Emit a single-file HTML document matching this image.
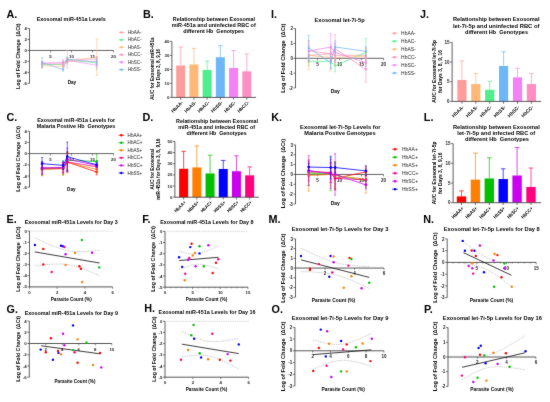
<!DOCTYPE html>
<html><head><meta charset="utf-8"><style>
html,body{margin:0;padding:0;background:#fff;width:550px;height:402px;overflow:hidden}
svg{display:block}
text{font-family:"Liberation Sans",sans-serif;white-space:pre}
text[font-weight=bold]{stroke:#1e1e1e;stroke-width:0}
text.t{fill:#222}
</style></head><body>
<svg xmlns="http://www.w3.org/2000/svg" width="550" height="402" viewBox="0 0 550 402" font-family="Liberation Sans, sans-serif">
<defs><filter id="bl" x="0" y="0" width="550" height="402" filterUnits="userSpaceOnUse"><feConvolveMatrix order="3" kernelMatrix="0.0221 0.0441 0.0221 0.0441 0.7353 0.0441 0.0221 0.0441 0.0221" preserveAlpha="false" edgeMode="duplicate"/></filter></defs>
<rect width="550" height="402" fill="#fff"/>
<g filter="url(#bl)">
<text x="6.40" y="17.50" font-size="10.8" font-weight="bold">A.</text>
<text x="71.25" y="21.20" font-size="5.8" font-weight="bold" text-anchor="middle" textLength="69.1" lengthAdjust="spacingAndGlyphs">Exosomal miR-451a Levels</text>
<line x1="29.50" y1="28.49" x2="29.50" y2="83.39" stroke="#3a3a3a" stroke-width="0.8"/>
<line x1="27.50" y1="83.39" x2="29.50" y2="83.39" stroke="#3a3a3a" stroke-width="0.7"/>
<text x="26.90" y="84.94" font-size="4.3" font-weight="700" class="t" text-anchor="end">-6</text>
<line x1="27.50" y1="72.41" x2="29.50" y2="72.41" stroke="#3a3a3a" stroke-width="0.7"/>
<text x="26.90" y="73.96" font-size="4.3" font-weight="700" class="t" text-anchor="end">-4</text>
<line x1="27.50" y1="61.43" x2="29.50" y2="61.43" stroke="#3a3a3a" stroke-width="0.7"/>
<text x="26.90" y="62.98" font-size="4.3" font-weight="700" class="t" text-anchor="end">-2</text>
<line x1="27.50" y1="50.45" x2="29.50" y2="50.45" stroke="#3a3a3a" stroke-width="0.7"/>
<text x="26.90" y="52.00" font-size="4.3" font-weight="700" class="t" text-anchor="end">0</text>
<line x1="27.50" y1="39.47" x2="29.50" y2="39.47" stroke="#3a3a3a" stroke-width="0.7"/>
<text x="26.90" y="41.02" font-size="4.3" font-weight="700" class="t" text-anchor="end">2</text>
<line x1="27.50" y1="28.49" x2="29.50" y2="28.49" stroke="#3a3a3a" stroke-width="0.7"/>
<text x="26.90" y="30.04" font-size="4.3" font-weight="700" class="t" text-anchor="end">4</text>
<line x1="29.50" y1="50.45" x2="113.50" y2="50.45" stroke="#3a3a3a" stroke-width="0.8"/>
<line x1="50.50" y1="50.45" x2="50.50" y2="52.35" stroke="#3a3a3a" stroke-width="0.6"/>
<text x="50.50" y="57.85" font-size="4.3" font-weight="700" class="t" text-anchor="middle">5</text>
<line x1="71.50" y1="50.45" x2="71.50" y2="52.35" stroke="#3a3a3a" stroke-width="0.6"/>
<text x="71.50" y="57.85" font-size="4.3" font-weight="700" class="t" text-anchor="middle">10</text>
<line x1="92.50" y1="50.45" x2="92.50" y2="52.35" stroke="#3a3a3a" stroke-width="0.6"/>
<text x="92.50" y="57.85" font-size="4.3" font-weight="700" class="t" text-anchor="middle">15</text>
<line x1="113.50" y1="50.45" x2="113.50" y2="52.35" stroke="#3a3a3a" stroke-width="0.6"/>
<text x="113.50" y="57.85" font-size="4.3" font-weight="700" class="t" text-anchor="middle">20</text>
<text x="71.90" y="84.30" font-size="4.6" font-weight="bold" text-anchor="middle">Day</text>
<text x="20.13" y="56.20" font-size="6.2" font-weight="bold" text-anchor="middle" transform="rotate(-90 20.13 56.20)" textLength="65.4" lengthAdjust="spacingAndGlyphs">Log of Fold Change  (ΔCt)</text>
<line x1="42.10" y1="61.43" x2="42.10" y2="66.92" stroke="#FF9C9C" stroke-width="0.5"/>
<line x1="41.00" y1="61.43" x2="43.20" y2="61.43" stroke="#FF9C9C" stroke-width="0.5"/>
<line x1="41.00" y1="66.92" x2="43.20" y2="66.92" stroke="#FF9C9C" stroke-width="0.5"/>
<line x1="63.10" y1="62.53" x2="63.10" y2="66.92" stroke="#FF9C9C" stroke-width="0.5"/>
<line x1="62.00" y1="62.53" x2="64.20" y2="62.53" stroke="#FF9C9C" stroke-width="0.5"/>
<line x1="62.00" y1="66.92" x2="64.20" y2="66.92" stroke="#FF9C9C" stroke-width="0.5"/>
<line x1="67.30" y1="59.23" x2="67.30" y2="62.53" stroke="#FF9C9C" stroke-width="0.5"/>
<line x1="66.20" y1="59.23" x2="68.40" y2="59.23" stroke="#FF9C9C" stroke-width="0.5"/>
<line x1="66.20" y1="62.53" x2="68.40" y2="62.53" stroke="#FF9C9C" stroke-width="0.5"/>
<line x1="96.70" y1="58.69" x2="96.70" y2="64.18" stroke="#FF9C9C" stroke-width="0.5"/>
<line x1="95.60" y1="58.69" x2="97.80" y2="58.69" stroke="#FF9C9C" stroke-width="0.5"/>
<line x1="95.60" y1="64.18" x2="97.80" y2="64.18" stroke="#FF9C9C" stroke-width="0.5"/>
<polyline points="42.10,64.18 63.10,64.72 67.30,60.88 96.70,61.43" fill="none" stroke="#FF9C9C" stroke-width="0.6"/>
<circle cx="42.10" cy="64.18" r="0.75" fill="#FF9C9C"/>
<circle cx="63.10" cy="64.72" r="0.75" fill="#FF9C9C"/>
<circle cx="67.30" cy="60.88" r="0.75" fill="#FF9C9C"/>
<circle cx="96.70" cy="61.43" r="0.75" fill="#FF9C9C"/>
<line x1="42.10" y1="62.53" x2="42.10" y2="66.92" stroke="#50EE8C" stroke-width="0.5"/>
<line x1="41.00" y1="62.53" x2="43.20" y2="62.53" stroke="#50EE8C" stroke-width="0.5"/>
<line x1="41.00" y1="66.92" x2="43.20" y2="66.92" stroke="#50EE8C" stroke-width="0.5"/>
<line x1="63.10" y1="61.43" x2="63.10" y2="66.92" stroke="#50EE8C" stroke-width="0.5"/>
<line x1="62.00" y1="61.43" x2="64.20" y2="61.43" stroke="#50EE8C" stroke-width="0.5"/>
<line x1="62.00" y1="66.92" x2="64.20" y2="66.92" stroke="#50EE8C" stroke-width="0.5"/>
<line x1="67.30" y1="57.04" x2="67.30" y2="62.53" stroke="#50EE8C" stroke-width="0.5"/>
<line x1="66.20" y1="57.04" x2="68.40" y2="57.04" stroke="#50EE8C" stroke-width="0.5"/>
<line x1="66.20" y1="62.53" x2="68.40" y2="62.53" stroke="#50EE8C" stroke-width="0.5"/>
<line x1="96.70" y1="56.49" x2="96.70" y2="69.67" stroke="#50EE8C" stroke-width="0.5"/>
<line x1="95.60" y1="56.49" x2="97.80" y2="56.49" stroke="#50EE8C" stroke-width="0.5"/>
<line x1="95.60" y1="69.67" x2="97.80" y2="69.67" stroke="#50EE8C" stroke-width="0.5"/>
<polyline points="42.10,64.72 63.10,64.18 67.30,59.78 96.70,63.08" fill="none" stroke="#50EE8C" stroke-width="0.6"/>
<circle cx="42.10" cy="64.72" r="0.75" fill="#50EE8C"/>
<circle cx="63.10" cy="64.18" r="0.75" fill="#50EE8C"/>
<circle cx="67.30" cy="59.78" r="0.75" fill="#50EE8C"/>
<circle cx="96.70" cy="63.08" r="0.75" fill="#50EE8C"/>
<line x1="42.10" y1="63.08" x2="42.10" y2="68.57" stroke="#FFB878" stroke-width="0.5"/>
<line x1="41.00" y1="63.08" x2="43.20" y2="63.08" stroke="#FFB878" stroke-width="0.5"/>
<line x1="41.00" y1="68.57" x2="43.20" y2="68.57" stroke="#FFB878" stroke-width="0.5"/>
<line x1="63.10" y1="64.18" x2="63.10" y2="68.57" stroke="#FFB878" stroke-width="0.5"/>
<line x1="62.00" y1="64.18" x2="64.20" y2="64.18" stroke="#FFB878" stroke-width="0.5"/>
<line x1="62.00" y1="68.57" x2="64.20" y2="68.57" stroke="#FFB878" stroke-width="0.5"/>
<line x1="67.30" y1="59.23" x2="67.30" y2="63.63" stroke="#FFB878" stroke-width="0.5"/>
<line x1="66.20" y1="59.23" x2="68.40" y2="59.23" stroke="#FFB878" stroke-width="0.5"/>
<line x1="66.20" y1="63.63" x2="68.40" y2="63.63" stroke="#FFB878" stroke-width="0.5"/>
<line x1="96.70" y1="39.20" x2="96.70" y2="75.43" stroke="#FFB878" stroke-width="0.5"/>
<line x1="95.60" y1="39.20" x2="97.80" y2="39.20" stroke="#FFB878" stroke-width="0.5"/>
<line x1="95.60" y1="75.43" x2="97.80" y2="75.43" stroke="#FFB878" stroke-width="0.5"/>
<polyline points="42.10,65.82 63.10,66.37 67.30,61.43 96.70,57.31" fill="none" stroke="#FFB878" stroke-width="0.6"/>
<circle cx="42.10" cy="65.82" r="0.75" fill="#FFB878"/>
<circle cx="63.10" cy="66.37" r="0.75" fill="#FFB878"/>
<circle cx="67.30" cy="61.43" r="0.75" fill="#FFB878"/>
<circle cx="96.70" cy="57.31" r="0.75" fill="#FFB878"/>
<line x1="42.10" y1="61.43" x2="42.10" y2="64.72" stroke="#FF8EC2" stroke-width="0.5"/>
<line x1="41.00" y1="61.43" x2="43.20" y2="61.43" stroke="#FF8EC2" stroke-width="0.5"/>
<line x1="41.00" y1="64.72" x2="43.20" y2="64.72" stroke="#FF8EC2" stroke-width="0.5"/>
<line x1="63.10" y1="60.88" x2="63.10" y2="65.27" stroke="#FF8EC2" stroke-width="0.5"/>
<line x1="62.00" y1="60.88" x2="64.20" y2="60.88" stroke="#FF8EC2" stroke-width="0.5"/>
<line x1="62.00" y1="65.27" x2="64.20" y2="65.27" stroke="#FF8EC2" stroke-width="0.5"/>
<line x1="67.30" y1="50.45" x2="67.30" y2="68.02" stroke="#FF8EC2" stroke-width="0.5"/>
<line x1="66.20" y1="50.45" x2="68.40" y2="50.45" stroke="#FF8EC2" stroke-width="0.5"/>
<line x1="66.20" y1="68.02" x2="68.40" y2="68.02" stroke="#FF8EC2" stroke-width="0.5"/>
<line x1="96.70" y1="57.04" x2="96.70" y2="61.43" stroke="#FF8EC2" stroke-width="0.5"/>
<line x1="95.60" y1="57.04" x2="97.80" y2="57.04" stroke="#FF8EC2" stroke-width="0.5"/>
<line x1="95.60" y1="61.43" x2="97.80" y2="61.43" stroke="#FF8EC2" stroke-width="0.5"/>
<polyline points="42.10,63.08 63.10,63.08 67.30,59.23 96.70,59.23" fill="none" stroke="#FF8EC2" stroke-width="0.6"/>
<circle cx="42.10" cy="63.08" r="0.75" fill="#FF8EC2"/>
<circle cx="63.10" cy="63.08" r="0.75" fill="#FF8EC2"/>
<circle cx="67.30" cy="59.23" r="0.75" fill="#FF8EC2"/>
<circle cx="96.70" cy="59.23" r="0.75" fill="#FF8EC2"/>
<line x1="42.10" y1="61.70" x2="42.10" y2="65.00" stroke="#F282F6" stroke-width="0.5"/>
<line x1="41.00" y1="61.70" x2="43.20" y2="61.70" stroke="#F282F6" stroke-width="0.5"/>
<line x1="41.00" y1="65.00" x2="43.20" y2="65.00" stroke="#F282F6" stroke-width="0.5"/>
<line x1="63.10" y1="59.78" x2="63.10" y2="65.27" stroke="#F282F6" stroke-width="0.5"/>
<line x1="62.00" y1="59.78" x2="64.20" y2="59.78" stroke="#F282F6" stroke-width="0.5"/>
<line x1="62.00" y1="65.27" x2="64.20" y2="65.27" stroke="#F282F6" stroke-width="0.5"/>
<line x1="67.30" y1="58.14" x2="67.30" y2="62.53" stroke="#F282F6" stroke-width="0.5"/>
<line x1="66.20" y1="58.14" x2="68.40" y2="58.14" stroke="#F282F6" stroke-width="0.5"/>
<line x1="66.20" y1="62.53" x2="68.40" y2="62.53" stroke="#F282F6" stroke-width="0.5"/>
<line x1="96.70" y1="63.08" x2="96.70" y2="67.47" stroke="#F282F6" stroke-width="0.5"/>
<line x1="95.60" y1="63.08" x2="97.80" y2="63.08" stroke="#F282F6" stroke-width="0.5"/>
<line x1="95.60" y1="67.47" x2="97.80" y2="67.47" stroke="#F282F6" stroke-width="0.5"/>
<polyline points="42.10,63.35 63.10,62.53 67.30,60.33 96.70,65.27" fill="none" stroke="#F282F6" stroke-width="0.6"/>
<circle cx="42.10" cy="63.35" r="0.75" fill="#F282F6"/>
<circle cx="63.10" cy="62.53" r="0.75" fill="#F282F6"/>
<circle cx="67.30" cy="60.33" r="0.75" fill="#F282F6"/>
<circle cx="96.70" cy="65.27" r="0.75" fill="#F282F6"/>
<line x1="42.10" y1="57.59" x2="42.10" y2="67.47" stroke="#6DB7F7" stroke-width="0.5"/>
<line x1="41.00" y1="57.59" x2="43.20" y2="57.59" stroke="#6DB7F7" stroke-width="0.5"/>
<line x1="41.00" y1="67.47" x2="43.20" y2="67.47" stroke="#6DB7F7" stroke-width="0.5"/>
<line x1="63.10" y1="68.02" x2="63.10" y2="71.31" stroke="#6DB7F7" stroke-width="0.5"/>
<line x1="62.00" y1="68.02" x2="64.20" y2="68.02" stroke="#6DB7F7" stroke-width="0.5"/>
<line x1="62.00" y1="71.31" x2="64.20" y2="71.31" stroke="#6DB7F7" stroke-width="0.5"/>
<line x1="67.30" y1="57.59" x2="67.30" y2="60.88" stroke="#6DB7F7" stroke-width="0.5"/>
<line x1="66.20" y1="57.59" x2="68.40" y2="57.59" stroke="#6DB7F7" stroke-width="0.5"/>
<line x1="66.20" y1="60.88" x2="68.40" y2="60.88" stroke="#6DB7F7" stroke-width="0.5"/>
<line x1="96.70" y1="59.23" x2="96.70" y2="64.72" stroke="#6DB7F7" stroke-width="0.5"/>
<line x1="95.60" y1="59.23" x2="97.80" y2="59.23" stroke="#6DB7F7" stroke-width="0.5"/>
<line x1="95.60" y1="64.72" x2="97.80" y2="64.72" stroke="#6DB7F7" stroke-width="0.5"/>
<polyline points="42.10,62.53 63.10,69.67 67.30,59.23 96.70,61.98" fill="none" stroke="#6DB7F7" stroke-width="0.6"/>
<circle cx="42.10" cy="62.53" r="0.75" fill="#6DB7F7"/>
<circle cx="63.10" cy="69.67" r="0.75" fill="#6DB7F7"/>
<circle cx="67.30" cy="59.23" r="0.75" fill="#6DB7F7"/>
<circle cx="96.70" cy="61.98" r="0.75" fill="#6DB7F7"/>
<line x1="118.70" y1="32.40" x2="124.30" y2="32.40" stroke="#FF9C9C" stroke-width="0.8"/>
<circle cx="121.50" cy="32.40" r="1.2" fill="#FF9C9C"/>
<text x="128.00" y="34.04" font-size="4.55" fill="#222">HbAA-</text>
<line x1="118.70" y1="39.85" x2="124.30" y2="39.85" stroke="#50EE8C" stroke-width="0.8"/>
<circle cx="121.50" cy="39.85" r="1.2" fill="#50EE8C"/>
<text x="128.00" y="41.49" font-size="4.55" fill="#222">HbAC-</text>
<line x1="118.70" y1="47.30" x2="124.30" y2="47.30" stroke="#FFB878" stroke-width="0.8"/>
<circle cx="121.50" cy="47.30" r="1.2" fill="#FFB878"/>
<text x="128.00" y="48.94" font-size="4.55" fill="#222">HbAS-</text>
<line x1="118.70" y1="54.75" x2="124.30" y2="54.75" stroke="#FF8EC2" stroke-width="0.8"/>
<circle cx="121.50" cy="54.75" r="1.2" fill="#FF8EC2"/>
<text x="128.00" y="56.39" font-size="4.55" fill="#222">HbCC-</text>
<line x1="118.70" y1="62.20" x2="124.30" y2="62.20" stroke="#F282F6" stroke-width="0.8"/>
<circle cx="121.50" cy="62.20" r="1.2" fill="#F282F6"/>
<text x="128.00" y="63.84" font-size="4.55" fill="#222">HbSC-</text>
<line x1="118.70" y1="69.65" x2="124.30" y2="69.65" stroke="#6DB7F7" stroke-width="0.8"/>
<circle cx="121.50" cy="69.65" r="1.2" fill="#6DB7F7"/>
<text x="128.00" y="71.29" font-size="4.55" fill="#222">HbSS-</text>
<text x="6.40" y="120.50" font-size="10.8" font-weight="bold">C.</text>
<text x="76.10" y="122.00" font-size="5.8" font-weight="bold" text-anchor="middle" textLength="77.9" lengthAdjust="spacingAndGlyphs">Exosomal miR-451a Levels for</text>
<text x="76.10" y="128.20" font-size="5.8" font-weight="bold" text-anchor="middle" textLength="78.5" lengthAdjust="spacingAndGlyphs">Malaria Postive Hb  Genotypes</text>
<line x1="29.50" y1="131.20" x2="29.50" y2="187.20" stroke="#3a3a3a" stroke-width="0.8"/>
<line x1="27.50" y1="187.20" x2="29.50" y2="187.20" stroke="#3a3a3a" stroke-width="0.7"/>
<text x="26.90" y="188.75" font-size="4.3" font-weight="700" class="t" text-anchor="end">-6</text>
<line x1="27.50" y1="176.00" x2="29.50" y2="176.00" stroke="#3a3a3a" stroke-width="0.7"/>
<text x="26.90" y="177.55" font-size="4.3" font-weight="700" class="t" text-anchor="end">-4</text>
<line x1="27.50" y1="164.80" x2="29.50" y2="164.80" stroke="#3a3a3a" stroke-width="0.7"/>
<text x="26.90" y="166.35" font-size="4.3" font-weight="700" class="t" text-anchor="end">-2</text>
<line x1="27.50" y1="153.60" x2="29.50" y2="153.60" stroke="#3a3a3a" stroke-width="0.7"/>
<text x="26.90" y="155.15" font-size="4.3" font-weight="700" class="t" text-anchor="end">0</text>
<line x1="27.50" y1="142.40" x2="29.50" y2="142.40" stroke="#3a3a3a" stroke-width="0.7"/>
<text x="26.90" y="143.95" font-size="4.3" font-weight="700" class="t" text-anchor="end">2</text>
<line x1="27.50" y1="131.20" x2="29.50" y2="131.20" stroke="#3a3a3a" stroke-width="0.7"/>
<text x="26.90" y="132.75" font-size="4.3" font-weight="700" class="t" text-anchor="end">4</text>
<line x1="29.50" y1="153.60" x2="113.50" y2="153.60" stroke="#3a3a3a" stroke-width="0.8"/>
<line x1="50.50" y1="153.60" x2="50.50" y2="155.50" stroke="#3a3a3a" stroke-width="0.6"/>
<text x="50.50" y="161.00" font-size="4.3" font-weight="700" class="t" text-anchor="middle">5</text>
<line x1="71.50" y1="153.60" x2="71.50" y2="155.50" stroke="#3a3a3a" stroke-width="0.6"/>
<text x="71.50" y="161.00" font-size="4.3" font-weight="700" class="t" text-anchor="middle">10</text>
<line x1="92.50" y1="153.60" x2="92.50" y2="155.50" stroke="#3a3a3a" stroke-width="0.6"/>
<text x="92.50" y="161.00" font-size="4.3" font-weight="700" class="t" text-anchor="middle">15</text>
<line x1="113.50" y1="153.60" x2="113.50" y2="155.50" stroke="#3a3a3a" stroke-width="0.6"/>
<text x="113.50" y="161.00" font-size="4.3" font-weight="700" class="t" text-anchor="middle">20</text>
<text x="71.30" y="191.10" font-size="4.6" font-weight="bold" text-anchor="middle">Day</text>
<text x="20.23" y="158.90" font-size="6.2" font-weight="bold" text-anchor="middle" transform="rotate(-90 20.23 158.90)" textLength="65.8" lengthAdjust="spacingAndGlyphs">Log of Fold Change  (ΔCt)</text>
<line x1="42.10" y1="163.40" x2="42.10" y2="174.60" stroke="#FF0000" stroke-width="0.55"/>
<line x1="41.00" y1="163.40" x2="43.20" y2="163.40" stroke="#FF0000" stroke-width="0.55"/>
<line x1="41.00" y1="174.60" x2="43.20" y2="174.60" stroke="#FF0000" stroke-width="0.55"/>
<line x1="63.10" y1="162.84" x2="63.10" y2="174.04" stroke="#FF0000" stroke-width="0.55"/>
<line x1="62.00" y1="162.84" x2="64.20" y2="162.84" stroke="#FF0000" stroke-width="0.55"/>
<line x1="62.00" y1="174.04" x2="64.20" y2="174.04" stroke="#FF0000" stroke-width="0.55"/>
<line x1="67.30" y1="153.04" x2="67.30" y2="170.96" stroke="#FF0000" stroke-width="0.55"/>
<line x1="66.20" y1="153.04" x2="68.40" y2="153.04" stroke="#FF0000" stroke-width="0.55"/>
<line x1="66.20" y1="170.96" x2="68.40" y2="170.96" stroke="#FF0000" stroke-width="0.55"/>
<line x1="96.70" y1="169.28" x2="96.70" y2="174.88" stroke="#FF0000" stroke-width="0.55"/>
<line x1="95.60" y1="169.28" x2="97.80" y2="169.28" stroke="#FF0000" stroke-width="0.55"/>
<line x1="95.60" y1="174.88" x2="97.80" y2="174.88" stroke="#FF0000" stroke-width="0.55"/>
<polyline points="42.10,169.00 63.10,168.44 67.30,162.00 96.70,172.08" fill="none" stroke="#FF0000" stroke-width="0.8"/>
<circle cx="42.10" cy="169.00" r="1.35" fill="#FF0000"/>
<circle cx="63.10" cy="168.44" r="1.35" fill="#FF0000"/>
<circle cx="67.30" cy="162.00" r="1.35" fill="#FF0000"/>
<circle cx="96.70" cy="172.08" r="1.35" fill="#FF0000"/>
<line x1="42.10" y1="161.16" x2="42.10" y2="175.72" stroke="#00C000" stroke-width="0.55"/>
<line x1="41.00" y1="161.16" x2="43.20" y2="161.16" stroke="#00C000" stroke-width="0.55"/>
<line x1="41.00" y1="175.72" x2="43.20" y2="175.72" stroke="#00C000" stroke-width="0.55"/>
<line x1="63.10" y1="160.60" x2="63.10" y2="175.16" stroke="#00C000" stroke-width="0.55"/>
<line x1="62.00" y1="160.60" x2="64.20" y2="160.60" stroke="#00C000" stroke-width="0.55"/>
<line x1="62.00" y1="175.16" x2="64.20" y2="175.16" stroke="#00C000" stroke-width="0.55"/>
<line x1="67.30" y1="151.92" x2="67.30" y2="168.72" stroke="#00C000" stroke-width="0.55"/>
<line x1="66.20" y1="151.92" x2="68.40" y2="151.92" stroke="#00C000" stroke-width="0.55"/>
<line x1="66.20" y1="168.72" x2="68.40" y2="168.72" stroke="#00C000" stroke-width="0.55"/>
<line x1="96.70" y1="154.16" x2="96.70" y2="168.72" stroke="#00C000" stroke-width="0.55"/>
<line x1="95.60" y1="154.16" x2="97.80" y2="154.16" stroke="#00C000" stroke-width="0.55"/>
<line x1="95.60" y1="168.72" x2="97.80" y2="168.72" stroke="#00C000" stroke-width="0.55"/>
<polyline points="42.10,168.44 63.10,167.88 67.30,160.32 96.70,161.44" fill="none" stroke="#00C000" stroke-width="0.8"/>
<circle cx="42.10" cy="168.44" r="1.35" fill="#00C000"/>
<circle cx="63.10" cy="167.88" r="1.35" fill="#00C000"/>
<circle cx="67.30" cy="160.32" r="1.35" fill="#00C000"/>
<circle cx="96.70" cy="161.44" r="1.35" fill="#00C000"/>
<line x1="42.10" y1="163.12" x2="42.10" y2="175.44" stroke="#FF8000" stroke-width="0.55"/>
<line x1="41.00" y1="163.12" x2="43.20" y2="163.12" stroke="#FF8000" stroke-width="0.55"/>
<line x1="41.00" y1="175.44" x2="43.20" y2="175.44" stroke="#FF8000" stroke-width="0.55"/>
<line x1="63.10" y1="162.56" x2="63.10" y2="174.88" stroke="#FF8000" stroke-width="0.55"/>
<line x1="62.00" y1="162.56" x2="64.20" y2="162.56" stroke="#FF8000" stroke-width="0.55"/>
<line x1="62.00" y1="174.88" x2="64.20" y2="174.88" stroke="#FF8000" stroke-width="0.55"/>
<line x1="67.30" y1="152.48" x2="67.30" y2="172.64" stroke="#FF8000" stroke-width="0.55"/>
<line x1="66.20" y1="152.48" x2="68.40" y2="152.48" stroke="#FF8000" stroke-width="0.55"/>
<line x1="66.20" y1="172.64" x2="68.40" y2="172.64" stroke="#FF8000" stroke-width="0.55"/>
<line x1="96.70" y1="165.92" x2="96.70" y2="172.64" stroke="#FF8000" stroke-width="0.55"/>
<line x1="95.60" y1="165.92" x2="97.80" y2="165.92" stroke="#FF8000" stroke-width="0.55"/>
<line x1="95.60" y1="172.64" x2="97.80" y2="172.64" stroke="#FF8000" stroke-width="0.55"/>
<polyline points="42.10,169.28 63.10,168.72 67.30,162.56 96.70,169.28" fill="none" stroke="#FF8000" stroke-width="0.8"/>
<circle cx="42.10" cy="169.28" r="1.35" fill="#FF8000"/>
<circle cx="63.10" cy="168.72" r="1.35" fill="#FF8000"/>
<circle cx="67.30" cy="162.56" r="1.35" fill="#FF8000"/>
<circle cx="96.70" cy="169.28" r="1.35" fill="#FF8000"/>
<line x1="42.10" y1="162.00" x2="42.10" y2="174.32" stroke="#FF0080" stroke-width="0.55"/>
<line x1="41.00" y1="162.00" x2="43.20" y2="162.00" stroke="#FF0080" stroke-width="0.55"/>
<line x1="41.00" y1="174.32" x2="43.20" y2="174.32" stroke="#FF0080" stroke-width="0.55"/>
<line x1="63.10" y1="162.84" x2="63.10" y2="172.92" stroke="#FF0080" stroke-width="0.55"/>
<line x1="62.00" y1="162.84" x2="64.20" y2="162.84" stroke="#FF0080" stroke-width="0.55"/>
<line x1="62.00" y1="172.92" x2="64.20" y2="172.92" stroke="#FF0080" stroke-width="0.55"/>
<line x1="67.30" y1="151.92" x2="67.30" y2="172.08" stroke="#FF0080" stroke-width="0.55"/>
<line x1="66.20" y1="151.92" x2="68.40" y2="151.92" stroke="#FF0080" stroke-width="0.55"/>
<line x1="66.20" y1="172.08" x2="68.40" y2="172.08" stroke="#FF0080" stroke-width="0.55"/>
<line x1="96.70" y1="163.96" x2="96.70" y2="169.56" stroke="#FF0080" stroke-width="0.55"/>
<line x1="95.60" y1="163.96" x2="97.80" y2="163.96" stroke="#FF0080" stroke-width="0.55"/>
<line x1="95.60" y1="169.56" x2="97.80" y2="169.56" stroke="#FF0080" stroke-width="0.55"/>
<polyline points="42.10,168.16 63.10,167.88 67.30,162.00 96.70,166.76" fill="none" stroke="#FF0080" stroke-width="0.8"/>
<circle cx="42.10" cy="168.16" r="1.35" fill="#FF0080"/>
<circle cx="63.10" cy="167.88" r="1.35" fill="#FF0080"/>
<circle cx="67.30" cy="162.00" r="1.35" fill="#FF0080"/>
<circle cx="96.70" cy="166.76" r="1.35" fill="#FF0080"/>
<line x1="42.10" y1="161.72" x2="42.10" y2="174.04" stroke="#CC00F0" stroke-width="0.55"/>
<line x1="41.00" y1="161.72" x2="43.20" y2="161.72" stroke="#CC00F0" stroke-width="0.55"/>
<line x1="41.00" y1="174.04" x2="43.20" y2="174.04" stroke="#CC00F0" stroke-width="0.55"/>
<line x1="63.10" y1="162.56" x2="63.10" y2="172.64" stroke="#CC00F0" stroke-width="0.55"/>
<line x1="62.00" y1="162.56" x2="64.20" y2="162.56" stroke="#CC00F0" stroke-width="0.55"/>
<line x1="62.00" y1="172.64" x2="64.20" y2="172.64" stroke="#CC00F0" stroke-width="0.55"/>
<line x1="67.30" y1="148.00" x2="67.30" y2="170.40" stroke="#CC00F0" stroke-width="0.55"/>
<line x1="66.20" y1="148.00" x2="68.40" y2="148.00" stroke="#CC00F0" stroke-width="0.55"/>
<line x1="66.20" y1="170.40" x2="68.40" y2="170.40" stroke="#CC00F0" stroke-width="0.55"/>
<line x1="96.70" y1="163.12" x2="96.70" y2="167.60" stroke="#CC00F0" stroke-width="0.55"/>
<line x1="95.60" y1="163.12" x2="97.80" y2="163.12" stroke="#CC00F0" stroke-width="0.55"/>
<line x1="95.60" y1="167.60" x2="97.80" y2="167.60" stroke="#CC00F0" stroke-width="0.55"/>
<polyline points="42.10,167.88 63.10,167.60 67.30,159.20 96.70,165.36" fill="none" stroke="#CC00F0" stroke-width="0.8"/>
<circle cx="42.10" cy="167.88" r="1.35" fill="#CC00F0"/>
<circle cx="63.10" cy="167.60" r="1.35" fill="#CC00F0"/>
<circle cx="67.30" cy="159.20" r="1.35" fill="#CC00F0"/>
<circle cx="96.70" cy="165.36" r="1.35" fill="#CC00F0"/>
<line x1="42.10" y1="157.52" x2="42.10" y2="169.84" stroke="#0000FF" stroke-width="0.55"/>
<line x1="41.00" y1="157.52" x2="43.20" y2="157.52" stroke="#0000FF" stroke-width="0.55"/>
<line x1="41.00" y1="169.84" x2="43.20" y2="169.84" stroke="#0000FF" stroke-width="0.55"/>
<line x1="63.10" y1="161.44" x2="63.10" y2="169.28" stroke="#0000FF" stroke-width="0.55"/>
<line x1="62.00" y1="161.44" x2="64.20" y2="161.44" stroke="#0000FF" stroke-width="0.55"/>
<line x1="62.00" y1="169.28" x2="64.20" y2="169.28" stroke="#0000FF" stroke-width="0.55"/>
<line x1="67.30" y1="142.12" x2="67.30" y2="171.24" stroke="#0000FF" stroke-width="0.55"/>
<line x1="66.20" y1="142.12" x2="68.40" y2="142.12" stroke="#0000FF" stroke-width="0.55"/>
<line x1="66.20" y1="171.24" x2="68.40" y2="171.24" stroke="#0000FF" stroke-width="0.55"/>
<line x1="96.70" y1="162.56" x2="96.70" y2="167.04" stroke="#0000FF" stroke-width="0.55"/>
<line x1="95.60" y1="162.56" x2="97.80" y2="162.56" stroke="#0000FF" stroke-width="0.55"/>
<line x1="95.60" y1="167.04" x2="97.80" y2="167.04" stroke="#0000FF" stroke-width="0.55"/>
<polyline points="42.10,163.68 63.10,165.36 67.30,156.68 96.70,164.80" fill="none" stroke="#0000FF" stroke-width="0.8"/>
<circle cx="42.10" cy="163.68" r="1.35" fill="#0000FF"/>
<circle cx="63.10" cy="165.36" r="1.35" fill="#0000FF"/>
<circle cx="67.30" cy="156.68" r="1.35" fill="#0000FF"/>
<circle cx="96.70" cy="164.80" r="1.35" fill="#0000FF"/>
<line x1="118.50" y1="135.20" x2="124.10" y2="135.20" stroke="#FF0000" stroke-width="0.8"/>
<circle cx="121.30" cy="135.20" r="1.2" fill="#FF0000"/>
<text x="127.60" y="136.84" font-size="4.55" fill="#222">HbAA+</text>
<line x1="118.50" y1="142.75" x2="124.10" y2="142.75" stroke="#00C000" stroke-width="0.8"/>
<circle cx="121.30" cy="142.75" r="1.2" fill="#00C000"/>
<text x="127.60" y="144.39" font-size="4.55" fill="#222">HbAC+</text>
<line x1="118.50" y1="150.30" x2="124.10" y2="150.30" stroke="#FF8000" stroke-width="0.8"/>
<circle cx="121.30" cy="150.30" r="1.2" fill="#FF8000"/>
<text x="127.60" y="151.94" font-size="4.55" fill="#222">HbAS+</text>
<line x1="118.50" y1="157.85" x2="124.10" y2="157.85" stroke="#FF0080" stroke-width="0.8"/>
<circle cx="121.30" cy="157.85" r="1.2" fill="#FF0080"/>
<text x="127.60" y="159.49" font-size="4.55" fill="#222">HbCC+</text>
<line x1="118.50" y1="165.40" x2="124.10" y2="165.40" stroke="#CC00F0" stroke-width="0.8"/>
<circle cx="121.30" cy="165.40" r="1.2" fill="#CC00F0"/>
<text x="127.60" y="167.04" font-size="4.55" fill="#222">HbSC+</text>
<line x1="118.50" y1="172.95" x2="124.10" y2="172.95" stroke="#0000FF" stroke-width="0.8"/>
<circle cx="121.30" cy="172.95" r="1.2" fill="#0000FF"/>
<text x="127.60" y="174.59" font-size="4.55" fill="#222">HbSS+</text>
<text x="271.00" y="17.50" font-size="10.8" font-weight="bold">I.</text>
<text x="339.60" y="21.50" font-size="6.1" font-weight="bold" text-anchor="middle" textLength="50.2" lengthAdjust="spacingAndGlyphs">Exosomal let-7i-5p</text>
<line x1="295.50" y1="28.60" x2="295.50" y2="88.00" stroke="#3a3a3a" stroke-width="0.8"/>
<line x1="293.50" y1="88.00" x2="295.50" y2="88.00" stroke="#3a3a3a" stroke-width="0.7"/>
<text x="292.90" y="89.62" font-size="4.5" font-weight="700" class="t" text-anchor="end">-2</text>
<line x1="293.50" y1="73.15" x2="295.50" y2="73.15" stroke="#3a3a3a" stroke-width="0.7"/>
<text x="292.90" y="74.77" font-size="4.5" font-weight="700" class="t" text-anchor="end">-1</text>
<line x1="293.50" y1="58.30" x2="295.50" y2="58.30" stroke="#3a3a3a" stroke-width="0.7"/>
<text x="292.90" y="59.92" font-size="4.5" font-weight="700" class="t" text-anchor="end">0</text>
<line x1="293.50" y1="43.45" x2="295.50" y2="43.45" stroke="#3a3a3a" stroke-width="0.7"/>
<text x="292.90" y="45.07" font-size="4.5" font-weight="700" class="t" text-anchor="end">1</text>
<line x1="293.50" y1="28.60" x2="295.50" y2="28.60" stroke="#3a3a3a" stroke-width="0.7"/>
<text x="292.90" y="30.22" font-size="4.5" font-weight="700" class="t" text-anchor="end">2</text>
<line x1="295.50" y1="58.30" x2="383.50" y2="58.30" stroke="#3a3a3a" stroke-width="0.8"/>
<line x1="317.50" y1="58.30" x2="317.50" y2="60.20" stroke="#3a3a3a" stroke-width="0.6"/>
<text x="317.50" y="65.90" font-size="4.5" font-weight="700" class="t" text-anchor="middle">5</text>
<line x1="339.50" y1="58.30" x2="339.50" y2="60.20" stroke="#3a3a3a" stroke-width="0.6"/>
<text x="339.50" y="65.90" font-size="4.5" font-weight="700" class="t" text-anchor="middle">10</text>
<line x1="361.50" y1="58.30" x2="361.50" y2="60.20" stroke="#3a3a3a" stroke-width="0.6"/>
<text x="361.50" y="65.90" font-size="4.5" font-weight="700" class="t" text-anchor="middle">15</text>
<line x1="383.50" y1="58.30" x2="383.50" y2="60.20" stroke="#3a3a3a" stroke-width="0.6"/>
<text x="383.50" y="65.90" font-size="4.5" font-weight="700" class="t" text-anchor="middle">20</text>
<text x="335.30" y="92.80" font-size="5.0" font-weight="bold" text-anchor="middle">Day</text>
<text x="285.23" y="58.20" font-size="6.2" font-weight="bold" text-anchor="middle" transform="rotate(-90 285.23 58.20)" textLength="69.2" lengthAdjust="spacingAndGlyphs">Log of Fold Change  (ΔCt)</text>
<line x1="308.70" y1="47.91" x2="308.70" y2="62.75" stroke="#FF9C9C" stroke-width="0.55"/>
<line x1="307.60" y1="47.91" x2="309.80" y2="47.91" stroke="#FF9C9C" stroke-width="0.55"/>
<line x1="307.60" y1="62.75" x2="309.80" y2="62.75" stroke="#FF9C9C" stroke-width="0.55"/>
<line x1="330.70" y1="46.42" x2="330.70" y2="61.27" stroke="#FF9C9C" stroke-width="0.55"/>
<line x1="329.60" y1="46.42" x2="331.80" y2="46.42" stroke="#FF9C9C" stroke-width="0.55"/>
<line x1="329.60" y1="61.27" x2="331.80" y2="61.27" stroke="#FF9C9C" stroke-width="0.55"/>
<line x1="335.10" y1="49.39" x2="335.10" y2="61.27" stroke="#FF9C9C" stroke-width="0.55"/>
<line x1="334.00" y1="49.39" x2="336.20" y2="49.39" stroke="#FF9C9C" stroke-width="0.55"/>
<line x1="334.00" y1="61.27" x2="336.20" y2="61.27" stroke="#FF9C9C" stroke-width="0.55"/>
<line x1="365.90" y1="47.91" x2="365.90" y2="62.75" stroke="#FF9C9C" stroke-width="0.55"/>
<line x1="364.80" y1="47.91" x2="367.00" y2="47.91" stroke="#FF9C9C" stroke-width="0.55"/>
<line x1="364.80" y1="62.75" x2="367.00" y2="62.75" stroke="#FF9C9C" stroke-width="0.55"/>
<polyline points="308.70,55.33 330.70,53.84 335.10,55.33 365.90,55.33" fill="none" stroke="#FF9C9C" stroke-width="0.75"/>
<circle cx="308.70" cy="55.33" r="1.0" fill="#FF9C9C"/>
<circle cx="330.70" cy="53.84" r="1.0" fill="#FF9C9C"/>
<circle cx="335.10" cy="55.33" r="1.0" fill="#FF9C9C"/>
<circle cx="365.90" cy="55.33" r="1.0" fill="#FF9C9C"/>
<line x1="308.70" y1="56.81" x2="308.70" y2="65.72" stroke="#50EE8C" stroke-width="0.55"/>
<line x1="307.60" y1="56.81" x2="309.80" y2="56.81" stroke="#50EE8C" stroke-width="0.55"/>
<line x1="307.60" y1="65.72" x2="309.80" y2="65.72" stroke="#50EE8C" stroke-width="0.55"/>
<line x1="330.70" y1="53.84" x2="330.70" y2="68.69" stroke="#50EE8C" stroke-width="0.55"/>
<line x1="329.60" y1="53.84" x2="331.80" y2="53.84" stroke="#50EE8C" stroke-width="0.55"/>
<line x1="329.60" y1="68.69" x2="331.80" y2="68.69" stroke="#50EE8C" stroke-width="0.55"/>
<line x1="335.10" y1="59.78" x2="335.10" y2="71.66" stroke="#50EE8C" stroke-width="0.55"/>
<line x1="334.00" y1="59.78" x2="336.20" y2="59.78" stroke="#50EE8C" stroke-width="0.55"/>
<line x1="334.00" y1="71.66" x2="336.20" y2="71.66" stroke="#50EE8C" stroke-width="0.55"/>
<line x1="365.90" y1="38.25" x2="365.90" y2="66.47" stroke="#50EE8C" stroke-width="0.55"/>
<line x1="364.80" y1="38.25" x2="367.00" y2="38.25" stroke="#50EE8C" stroke-width="0.55"/>
<line x1="364.80" y1="66.47" x2="367.00" y2="66.47" stroke="#50EE8C" stroke-width="0.55"/>
<polyline points="308.70,61.27 330.70,61.27 335.10,65.72 365.90,52.36" fill="none" stroke="#50EE8C" stroke-width="0.75"/>
<circle cx="308.70" cy="61.27" r="1.0" fill="#50EE8C"/>
<circle cx="330.70" cy="61.27" r="1.0" fill="#50EE8C"/>
<circle cx="335.10" cy="65.72" r="1.0" fill="#50EE8C"/>
<circle cx="365.90" cy="52.36" r="1.0" fill="#50EE8C"/>
<line x1="308.70" y1="41.22" x2="308.70" y2="69.44" stroke="#FFB878" stroke-width="0.55"/>
<line x1="307.60" y1="41.22" x2="309.80" y2="41.22" stroke="#FFB878" stroke-width="0.55"/>
<line x1="307.60" y1="69.44" x2="309.80" y2="69.44" stroke="#FFB878" stroke-width="0.55"/>
<line x1="330.70" y1="44.19" x2="330.70" y2="70.92" stroke="#FFB878" stroke-width="0.55"/>
<line x1="329.60" y1="44.19" x2="331.80" y2="44.19" stroke="#FFB878" stroke-width="0.55"/>
<line x1="329.60" y1="70.92" x2="331.80" y2="70.92" stroke="#FFB878" stroke-width="0.55"/>
<line x1="335.10" y1="50.13" x2="335.10" y2="64.98" stroke="#FFB878" stroke-width="0.55"/>
<line x1="334.00" y1="50.13" x2="336.20" y2="50.13" stroke="#FFB878" stroke-width="0.55"/>
<line x1="334.00" y1="64.98" x2="336.20" y2="64.98" stroke="#FFB878" stroke-width="0.55"/>
<line x1="365.90" y1="48.65" x2="365.90" y2="63.50" stroke="#FFB878" stroke-width="0.55"/>
<line x1="364.80" y1="48.65" x2="367.00" y2="48.65" stroke="#FFB878" stroke-width="0.55"/>
<line x1="364.80" y1="63.50" x2="367.00" y2="63.50" stroke="#FFB878" stroke-width="0.55"/>
<polyline points="308.70,55.33 330.70,57.56 335.10,57.56 365.90,56.07" fill="none" stroke="#FFB878" stroke-width="0.75"/>
<circle cx="308.70" cy="55.33" r="1.0" fill="#FFB878"/>
<circle cx="330.70" cy="57.56" r="1.0" fill="#FFB878"/>
<circle cx="335.10" cy="57.56" r="1.0" fill="#FFB878"/>
<circle cx="365.90" cy="56.07" r="1.0" fill="#FFB878"/>
<line x1="308.70" y1="40.48" x2="308.70" y2="61.27" stroke="#FF8EC2" stroke-width="0.55"/>
<line x1="307.60" y1="40.48" x2="309.80" y2="40.48" stroke="#FF8EC2" stroke-width="0.55"/>
<line x1="307.60" y1="61.27" x2="309.80" y2="61.27" stroke="#FF8EC2" stroke-width="0.55"/>
<line x1="330.70" y1="46.42" x2="330.70" y2="61.27" stroke="#FF8EC2" stroke-width="0.55"/>
<line x1="329.60" y1="46.42" x2="331.80" y2="46.42" stroke="#FF8EC2" stroke-width="0.55"/>
<line x1="329.60" y1="61.27" x2="331.80" y2="61.27" stroke="#FF8EC2" stroke-width="0.55"/>
<line x1="335.10" y1="34.54" x2="335.10" y2="62.75" stroke="#FF8EC2" stroke-width="0.55"/>
<line x1="334.00" y1="34.54" x2="336.20" y2="34.54" stroke="#FF8EC2" stroke-width="0.55"/>
<line x1="334.00" y1="62.75" x2="336.20" y2="62.75" stroke="#FF8EC2" stroke-width="0.55"/>
<line x1="365.90" y1="56.81" x2="365.90" y2="82.06" stroke="#FF8EC2" stroke-width="0.55"/>
<line x1="364.80" y1="56.81" x2="367.00" y2="56.81" stroke="#FF8EC2" stroke-width="0.55"/>
<line x1="364.80" y1="82.06" x2="367.00" y2="82.06" stroke="#FF8EC2" stroke-width="0.55"/>
<polyline points="308.70,50.88 330.70,53.84 335.10,48.65 365.90,69.44" fill="none" stroke="#FF8EC2" stroke-width="0.75"/>
<circle cx="308.70" cy="50.88" r="1.0" fill="#FF8EC2"/>
<circle cx="330.70" cy="53.84" r="1.0" fill="#FF8EC2"/>
<circle cx="335.10" cy="48.65" r="1.0" fill="#FF8EC2"/>
<circle cx="365.90" cy="69.44" r="1.0" fill="#FF8EC2"/>
<line x1="308.70" y1="44.93" x2="308.70" y2="56.81" stroke="#F282F6" stroke-width="0.55"/>
<line x1="307.60" y1="44.93" x2="309.80" y2="44.93" stroke="#F282F6" stroke-width="0.55"/>
<line x1="307.60" y1="56.81" x2="309.80" y2="56.81" stroke="#F282F6" stroke-width="0.55"/>
<line x1="330.70" y1="33.80" x2="330.70" y2="60.53" stroke="#F282F6" stroke-width="0.55"/>
<line x1="329.60" y1="33.80" x2="331.80" y2="33.80" stroke="#F282F6" stroke-width="0.55"/>
<line x1="329.60" y1="60.53" x2="331.80" y2="60.53" stroke="#F282F6" stroke-width="0.55"/>
<line x1="335.10" y1="43.45" x2="335.10" y2="61.27" stroke="#F282F6" stroke-width="0.55"/>
<line x1="334.00" y1="43.45" x2="336.20" y2="43.45" stroke="#F282F6" stroke-width="0.55"/>
<line x1="334.00" y1="61.27" x2="336.20" y2="61.27" stroke="#F282F6" stroke-width="0.55"/>
<line x1="365.90" y1="56.81" x2="365.90" y2="68.69" stroke="#F282F6" stroke-width="0.55"/>
<line x1="364.80" y1="56.81" x2="367.00" y2="56.81" stroke="#F282F6" stroke-width="0.55"/>
<line x1="364.80" y1="68.69" x2="367.00" y2="68.69" stroke="#F282F6" stroke-width="0.55"/>
<polyline points="308.70,50.88 330.70,47.16 335.10,52.36 365.90,62.75" fill="none" stroke="#F282F6" stroke-width="0.75"/>
<circle cx="308.70" cy="50.88" r="1.0" fill="#F282F6"/>
<circle cx="330.70" cy="47.16" r="1.0" fill="#F282F6"/>
<circle cx="335.10" cy="52.36" r="1.0" fill="#F282F6"/>
<circle cx="365.90" cy="62.75" r="1.0" fill="#F282F6"/>
<line x1="308.70" y1="35.28" x2="308.70" y2="60.53" stroke="#6DB7F7" stroke-width="0.55"/>
<line x1="307.60" y1="35.28" x2="309.80" y2="35.28" stroke="#6DB7F7" stroke-width="0.55"/>
<line x1="307.60" y1="60.53" x2="309.80" y2="60.53" stroke="#6DB7F7" stroke-width="0.55"/>
<line x1="330.70" y1="56.81" x2="330.70" y2="68.69" stroke="#6DB7F7" stroke-width="0.55"/>
<line x1="329.60" y1="56.81" x2="331.80" y2="56.81" stroke="#6DB7F7" stroke-width="0.55"/>
<line x1="329.60" y1="68.69" x2="331.80" y2="68.69" stroke="#6DB7F7" stroke-width="0.55"/>
<line x1="335.10" y1="41.07" x2="335.10" y2="52.95" stroke="#6DB7F7" stroke-width="0.55"/>
<line x1="334.00" y1="41.07" x2="336.20" y2="41.07" stroke="#6DB7F7" stroke-width="0.55"/>
<line x1="334.00" y1="52.95" x2="336.20" y2="52.95" stroke="#6DB7F7" stroke-width="0.55"/>
<line x1="365.90" y1="46.87" x2="365.90" y2="55.78" stroke="#6DB7F7" stroke-width="0.55"/>
<line x1="364.80" y1="46.87" x2="367.00" y2="46.87" stroke="#6DB7F7" stroke-width="0.55"/>
<line x1="364.80" y1="55.78" x2="367.00" y2="55.78" stroke="#6DB7F7" stroke-width="0.55"/>
<polyline points="308.70,47.91 330.70,62.75 335.10,47.01 365.90,51.32" fill="none" stroke="#6DB7F7" stroke-width="0.75"/>
<circle cx="308.70" cy="47.91" r="1.0" fill="#6DB7F7"/>
<circle cx="330.70" cy="62.75" r="1.0" fill="#6DB7F7"/>
<circle cx="335.10" cy="47.01" r="1.0" fill="#6DB7F7"/>
<circle cx="365.90" cy="51.32" r="1.0" fill="#6DB7F7"/>
<line x1="391.70" y1="33.30" x2="397.30" y2="33.30" stroke="#FF9C9C" stroke-width="0.8"/>
<circle cx="394.50" cy="33.30" r="1.2" fill="#FF9C9C"/>
<text x="401.10" y="35.08" font-size="4.95" fill="#222">HbAA-</text>
<line x1="391.70" y1="41.25" x2="397.30" y2="41.25" stroke="#50EE8C" stroke-width="0.8"/>
<circle cx="394.50" cy="41.25" r="1.2" fill="#50EE8C"/>
<text x="401.10" y="43.03" font-size="4.95" fill="#222">HbAC-</text>
<line x1="391.70" y1="49.20" x2="397.30" y2="49.20" stroke="#FFB878" stroke-width="0.8"/>
<circle cx="394.50" cy="49.20" r="1.2" fill="#FFB878"/>
<text x="401.10" y="50.98" font-size="4.95" fill="#222">HbAS-</text>
<line x1="391.70" y1="57.15" x2="397.30" y2="57.15" stroke="#FF8EC2" stroke-width="0.8"/>
<circle cx="394.50" cy="57.15" r="1.2" fill="#FF8EC2"/>
<text x="401.10" y="58.93" font-size="4.95" fill="#222">HbCC-</text>
<line x1="391.70" y1="65.10" x2="397.30" y2="65.10" stroke="#F282F6" stroke-width="0.8"/>
<circle cx="394.50" cy="65.10" r="1.2" fill="#F282F6"/>
<text x="401.10" y="66.88" font-size="4.95" fill="#222">HbSC-</text>
<line x1="391.70" y1="73.05" x2="397.30" y2="73.05" stroke="#6DB7F7" stroke-width="0.8"/>
<circle cx="394.50" cy="73.05" r="1.2" fill="#6DB7F7"/>
<text x="401.10" y="74.83" font-size="4.95" fill="#222">HbSS-</text>
<text x="271.30" y="120.70" font-size="10.8" font-weight="bold">K.</text>
<text x="340.30" y="129.30" font-size="6.1" font-weight="bold" text-anchor="middle" textLength="80.5" lengthAdjust="spacingAndGlyphs">Exosomal let-7i-5p Levels for</text>
<text x="339.90" y="135.10" font-size="6.1" font-weight="bold" text-anchor="middle" textLength="71.3" lengthAdjust="spacingAndGlyphs">Malaria Postive Genotypes</text>
<line x1="295.50" y1="144.90" x2="295.50" y2="204.00" stroke="#3a3a3a" stroke-width="0.8"/>
<line x1="293.50" y1="204.00" x2="295.50" y2="204.00" stroke="#3a3a3a" stroke-width="0.7"/>
<text x="292.90" y="205.62" font-size="4.5" font-weight="700" class="t" text-anchor="end">-3</text>
<line x1="293.50" y1="194.15" x2="295.50" y2="194.15" stroke="#3a3a3a" stroke-width="0.7"/>
<text x="292.90" y="195.77" font-size="4.5" font-weight="700" class="t" text-anchor="end">-2</text>
<line x1="293.50" y1="184.30" x2="295.50" y2="184.30" stroke="#3a3a3a" stroke-width="0.7"/>
<text x="292.90" y="185.92" font-size="4.5" font-weight="700" class="t" text-anchor="end">-1</text>
<line x1="293.50" y1="174.45" x2="295.50" y2="174.45" stroke="#3a3a3a" stroke-width="0.7"/>
<text x="292.90" y="176.07" font-size="4.5" font-weight="700" class="t" text-anchor="end">0</text>
<line x1="293.50" y1="164.60" x2="295.50" y2="164.60" stroke="#3a3a3a" stroke-width="0.7"/>
<text x="292.90" y="166.22" font-size="4.5" font-weight="700" class="t" text-anchor="end">1</text>
<line x1="293.50" y1="154.75" x2="295.50" y2="154.75" stroke="#3a3a3a" stroke-width="0.7"/>
<text x="292.90" y="156.37" font-size="4.5" font-weight="700" class="t" text-anchor="end">2</text>
<line x1="293.50" y1="144.90" x2="295.50" y2="144.90" stroke="#3a3a3a" stroke-width="0.7"/>
<text x="292.90" y="146.52" font-size="4.5" font-weight="700" class="t" text-anchor="end">3</text>
<line x1="295.50" y1="174.45" x2="383.50" y2="174.45" stroke="#3a3a3a" stroke-width="0.8"/>
<line x1="317.50" y1="174.45" x2="317.50" y2="176.35" stroke="#3a3a3a" stroke-width="0.6"/>
<text x="317.50" y="182.05" font-size="4.5" font-weight="700" class="t" text-anchor="middle">5</text>
<line x1="339.50" y1="174.45" x2="339.50" y2="176.35" stroke="#3a3a3a" stroke-width="0.6"/>
<text x="339.50" y="182.05" font-size="4.5" font-weight="700" class="t" text-anchor="middle">10</text>
<line x1="361.50" y1="174.45" x2="361.50" y2="176.35" stroke="#3a3a3a" stroke-width="0.6"/>
<text x="361.50" y="182.05" font-size="4.5" font-weight="700" class="t" text-anchor="middle">15</text>
<line x1="383.50" y1="174.45" x2="383.50" y2="176.35" stroke="#3a3a3a" stroke-width="0.6"/>
<text x="383.50" y="182.05" font-size="4.5" font-weight="700" class="t" text-anchor="middle">20</text>
<text x="335.30" y="205.30" font-size="5.0" font-weight="bold" text-anchor="middle">Day</text>
<text x="285.23" y="173.60" font-size="6.2" font-weight="bold" text-anchor="middle" transform="rotate(-90 285.23 173.60)" textLength="69.4" lengthAdjust="spacingAndGlyphs">Log of Fold Change  (ΔCt)</text>
<line x1="308.70" y1="167.06" x2="308.70" y2="176.91" stroke="#FF0000" stroke-width="0.55"/>
<line x1="307.60" y1="167.06" x2="309.80" y2="167.06" stroke="#FF0000" stroke-width="0.55"/>
<line x1="307.60" y1="176.91" x2="309.80" y2="176.91" stroke="#FF0000" stroke-width="0.55"/>
<line x1="330.70" y1="162.63" x2="330.70" y2="182.33" stroke="#FF0000" stroke-width="0.55"/>
<line x1="329.60" y1="162.63" x2="331.80" y2="162.63" stroke="#FF0000" stroke-width="0.55"/>
<line x1="329.60" y1="182.33" x2="331.80" y2="182.33" stroke="#FF0000" stroke-width="0.55"/>
<line x1="335.10" y1="167.55" x2="335.10" y2="189.22" stroke="#FF0000" stroke-width="0.55"/>
<line x1="334.00" y1="167.55" x2="336.20" y2="167.55" stroke="#FF0000" stroke-width="0.55"/>
<line x1="334.00" y1="189.22" x2="336.20" y2="189.22" stroke="#FF0000" stroke-width="0.55"/>
<line x1="365.90" y1="167.95" x2="365.90" y2="175.83" stroke="#FF0000" stroke-width="0.55"/>
<line x1="364.80" y1="167.95" x2="367.00" y2="167.95" stroke="#FF0000" stroke-width="0.55"/>
<line x1="364.80" y1="175.83" x2="367.00" y2="175.83" stroke="#FF0000" stroke-width="0.55"/>
<polyline points="308.70,171.99 330.70,172.48 335.10,178.39 365.90,171.89" fill="none" stroke="#FF0000" stroke-width="0.8"/>
<circle cx="308.70" cy="171.99" r="1.35" fill="#FF0000"/>
<circle cx="330.70" cy="172.48" r="1.35" fill="#FF0000"/>
<circle cx="335.10" cy="178.39" r="1.35" fill="#FF0000"/>
<circle cx="365.90" cy="171.89" r="1.35" fill="#FF0000"/>
<line x1="308.70" y1="160.17" x2="308.70" y2="185.78" stroke="#00C000" stroke-width="0.55"/>
<line x1="307.60" y1="160.17" x2="309.80" y2="160.17" stroke="#00C000" stroke-width="0.55"/>
<line x1="307.60" y1="185.78" x2="309.80" y2="185.78" stroke="#00C000" stroke-width="0.55"/>
<line x1="330.70" y1="157.21" x2="330.70" y2="190.70" stroke="#00C000" stroke-width="0.55"/>
<line x1="329.60" y1="157.21" x2="331.80" y2="157.21" stroke="#00C000" stroke-width="0.55"/>
<line x1="329.60" y1="190.70" x2="331.80" y2="190.70" stroke="#00C000" stroke-width="0.55"/>
<line x1="335.10" y1="161.64" x2="335.10" y2="189.22" stroke="#00C000" stroke-width="0.55"/>
<line x1="334.00" y1="161.64" x2="336.20" y2="161.64" stroke="#00C000" stroke-width="0.55"/>
<line x1="334.00" y1="189.22" x2="336.20" y2="189.22" stroke="#00C000" stroke-width="0.55"/>
<line x1="365.90" y1="173.76" x2="365.90" y2="187.55" stroke="#00C000" stroke-width="0.55"/>
<line x1="364.80" y1="173.76" x2="367.00" y2="173.76" stroke="#00C000" stroke-width="0.55"/>
<line x1="364.80" y1="187.55" x2="367.00" y2="187.55" stroke="#00C000" stroke-width="0.55"/>
<polyline points="308.70,172.97 330.70,173.96 335.10,175.44 365.90,180.66" fill="none" stroke="#00C000" stroke-width="0.8"/>
<circle cx="308.70" cy="172.97" r="1.35" fill="#00C000"/>
<circle cx="330.70" cy="173.96" r="1.35" fill="#00C000"/>
<circle cx="335.10" cy="175.44" r="1.35" fill="#00C000"/>
<circle cx="365.90" cy="180.66" r="1.35" fill="#00C000"/>
<line x1="308.70" y1="159.67" x2="308.70" y2="191.19" stroke="#FF8000" stroke-width="0.55"/>
<line x1="307.60" y1="159.67" x2="309.80" y2="159.67" stroke="#FF8000" stroke-width="0.55"/>
<line x1="307.60" y1="191.19" x2="309.80" y2="191.19" stroke="#FF8000" stroke-width="0.55"/>
<line x1="330.70" y1="162.63" x2="330.70" y2="186.27" stroke="#FF8000" stroke-width="0.55"/>
<line x1="329.60" y1="162.63" x2="331.80" y2="162.63" stroke="#FF8000" stroke-width="0.55"/>
<line x1="329.60" y1="186.27" x2="331.80" y2="186.27" stroke="#FF8000" stroke-width="0.55"/>
<line x1="335.10" y1="161.64" x2="335.10" y2="189.22" stroke="#FF8000" stroke-width="0.55"/>
<line x1="334.00" y1="161.64" x2="336.20" y2="161.64" stroke="#FF8000" stroke-width="0.55"/>
<line x1="334.00" y1="189.22" x2="336.20" y2="189.22" stroke="#FF8000" stroke-width="0.55"/>
<line x1="365.90" y1="165.58" x2="365.90" y2="193.16" stroke="#FF8000" stroke-width="0.55"/>
<line x1="364.80" y1="165.58" x2="367.00" y2="165.58" stroke="#FF8000" stroke-width="0.55"/>
<line x1="364.80" y1="193.16" x2="367.00" y2="193.16" stroke="#FF8000" stroke-width="0.55"/>
<polyline points="308.70,175.44 330.70,174.45 335.10,175.44 365.90,179.38" fill="none" stroke="#FF8000" stroke-width="0.8"/>
<circle cx="308.70" cy="175.44" r="1.35" fill="#FF8000"/>
<circle cx="330.70" cy="174.45" r="1.35" fill="#FF8000"/>
<circle cx="335.10" cy="175.44" r="1.35" fill="#FF8000"/>
<circle cx="365.90" cy="179.38" r="1.35" fill="#FF8000"/>
<line x1="308.70" y1="161.15" x2="308.70" y2="180.85" stroke="#FF0080" stroke-width="0.55"/>
<line x1="307.60" y1="161.15" x2="309.80" y2="161.15" stroke="#FF0080" stroke-width="0.55"/>
<line x1="307.60" y1="180.85" x2="309.80" y2="180.85" stroke="#FF0080" stroke-width="0.55"/>
<line x1="330.70" y1="163.12" x2="330.70" y2="182.82" stroke="#FF0080" stroke-width="0.55"/>
<line x1="329.60" y1="163.12" x2="331.80" y2="163.12" stroke="#FF0080" stroke-width="0.55"/>
<line x1="329.60" y1="182.82" x2="331.80" y2="182.82" stroke="#FF0080" stroke-width="0.55"/>
<line x1="335.10" y1="166.57" x2="335.10" y2="190.21" stroke="#FF0080" stroke-width="0.55"/>
<line x1="334.00" y1="166.57" x2="336.20" y2="166.57" stroke="#FF0080" stroke-width="0.55"/>
<line x1="334.00" y1="190.21" x2="336.20" y2="190.21" stroke="#FF0080" stroke-width="0.55"/>
<line x1="365.90" y1="174.94" x2="365.90" y2="184.79" stroke="#FF0080" stroke-width="0.55"/>
<line x1="364.80" y1="174.94" x2="367.00" y2="174.94" stroke="#FF0080" stroke-width="0.55"/>
<line x1="364.80" y1="184.79" x2="367.00" y2="184.79" stroke="#FF0080" stroke-width="0.55"/>
<polyline points="308.70,171.00 330.70,172.97 335.10,178.39 365.90,179.87" fill="none" stroke="#FF0080" stroke-width="0.8"/>
<circle cx="308.70" cy="171.00" r="1.35" fill="#FF0080"/>
<circle cx="330.70" cy="172.97" r="1.35" fill="#FF0080"/>
<circle cx="335.10" cy="178.39" r="1.35" fill="#FF0080"/>
<circle cx="365.90" cy="179.87" r="1.35" fill="#FF0080"/>
<line x1="308.70" y1="155.73" x2="308.70" y2="185.28" stroke="#CC00F0" stroke-width="0.55"/>
<line x1="307.60" y1="155.73" x2="309.80" y2="155.73" stroke="#CC00F0" stroke-width="0.55"/>
<line x1="307.60" y1="185.28" x2="309.80" y2="185.28" stroke="#CC00F0" stroke-width="0.55"/>
<line x1="330.70" y1="159.18" x2="330.70" y2="188.73" stroke="#CC00F0" stroke-width="0.55"/>
<line x1="329.60" y1="159.18" x2="331.80" y2="159.18" stroke="#CC00F0" stroke-width="0.55"/>
<line x1="329.60" y1="188.73" x2="331.80" y2="188.73" stroke="#CC00F0" stroke-width="0.55"/>
<line x1="335.10" y1="153.76" x2="335.10" y2="195.13" stroke="#CC00F0" stroke-width="0.55"/>
<line x1="334.00" y1="153.76" x2="336.20" y2="153.76" stroke="#CC00F0" stroke-width="0.55"/>
<line x1="334.00" y1="195.13" x2="336.20" y2="195.13" stroke="#CC00F0" stroke-width="0.55"/>
<line x1="365.90" y1="180.95" x2="365.90" y2="188.83" stroke="#CC00F0" stroke-width="0.55"/>
<line x1="364.80" y1="180.95" x2="367.00" y2="180.95" stroke="#CC00F0" stroke-width="0.55"/>
<line x1="364.80" y1="188.83" x2="367.00" y2="188.83" stroke="#CC00F0" stroke-width="0.55"/>
<polyline points="308.70,170.51 330.70,173.96 335.10,174.45 365.90,184.89" fill="none" stroke="#CC00F0" stroke-width="0.8"/>
<circle cx="308.70" cy="170.51" r="1.35" fill="#CC00F0"/>
<circle cx="330.70" cy="173.96" r="1.35" fill="#CC00F0"/>
<circle cx="335.10" cy="174.45" r="1.35" fill="#CC00F0"/>
<circle cx="365.90" cy="184.89" r="1.35" fill="#CC00F0"/>
<line x1="308.70" y1="163.12" x2="308.70" y2="171.00" stroke="#0000FF" stroke-width="0.55"/>
<line x1="307.60" y1="163.12" x2="309.80" y2="163.12" stroke="#0000FF" stroke-width="0.55"/>
<line x1="307.60" y1="171.00" x2="309.80" y2="171.00" stroke="#0000FF" stroke-width="0.55"/>
<line x1="330.70" y1="156.23" x2="330.70" y2="178.88" stroke="#0000FF" stroke-width="0.55"/>
<line x1="329.60" y1="156.23" x2="331.80" y2="156.23" stroke="#0000FF" stroke-width="0.55"/>
<line x1="329.60" y1="178.88" x2="331.80" y2="178.88" stroke="#0000FF" stroke-width="0.55"/>
<line x1="335.10" y1="162.63" x2="335.10" y2="172.48" stroke="#0000FF" stroke-width="0.55"/>
<line x1="334.00" y1="162.63" x2="336.20" y2="162.63" stroke="#0000FF" stroke-width="0.55"/>
<line x1="334.00" y1="172.48" x2="336.20" y2="172.48" stroke="#0000FF" stroke-width="0.55"/>
<line x1="365.90" y1="165.98" x2="365.90" y2="175.83" stroke="#0000FF" stroke-width="0.55"/>
<line x1="364.80" y1="165.98" x2="367.00" y2="165.98" stroke="#0000FF" stroke-width="0.55"/>
<line x1="364.80" y1="175.83" x2="367.00" y2="175.83" stroke="#0000FF" stroke-width="0.55"/>
<polyline points="308.70,167.06 330.70,167.55 335.10,167.55 365.90,170.90" fill="none" stroke="#0000FF" stroke-width="0.8"/>
<circle cx="308.70" cy="167.06" r="1.35" fill="#0000FF"/>
<circle cx="330.70" cy="167.55" r="1.35" fill="#0000FF"/>
<circle cx="335.10" cy="167.55" r="1.35" fill="#0000FF"/>
<circle cx="365.90" cy="170.90" r="1.35" fill="#0000FF"/>
<line x1="392.20" y1="149.20" x2="397.80" y2="149.20" stroke="#FF0000" stroke-width="0.8"/>
<circle cx="395.00" cy="149.20" r="1.2" fill="#FF0000"/>
<text x="402.00" y="150.98" font-size="4.95" fill="#222">HbAA+</text>
<line x1="392.20" y1="157.20" x2="397.80" y2="157.20" stroke="#00C000" stroke-width="0.8"/>
<circle cx="395.00" cy="157.20" r="1.2" fill="#00C000"/>
<text x="402.00" y="158.98" font-size="4.95" fill="#222">HbAC+</text>
<line x1="392.20" y1="165.20" x2="397.80" y2="165.20" stroke="#FF8000" stroke-width="0.8"/>
<circle cx="395.00" cy="165.20" r="1.2" fill="#FF8000"/>
<text x="402.00" y="166.98" font-size="4.95" fill="#222">HbAS+</text>
<line x1="392.20" y1="173.20" x2="397.80" y2="173.20" stroke="#FF0080" stroke-width="0.8"/>
<circle cx="395.00" cy="173.20" r="1.2" fill="#FF0080"/>
<text x="402.00" y="174.98" font-size="4.95" fill="#222">HbCC+</text>
<line x1="392.20" y1="181.20" x2="397.80" y2="181.20" stroke="#CC00F0" stroke-width="0.8"/>
<circle cx="395.00" cy="181.20" r="1.2" fill="#CC00F0"/>
<text x="402.00" y="182.98" font-size="4.95" fill="#222">HbSC+</text>
<line x1="392.20" y1="189.20" x2="397.80" y2="189.20" stroke="#0000FF" stroke-width="0.8"/>
<circle cx="395.00" cy="189.20" r="1.2" fill="#0000FF"/>
<text x="402.00" y="190.98" font-size="4.95" fill="#222">HbSS+</text>
<text x="143.00" y="17.60" font-size="10.8" font-weight="bold">B.</text>
<text x="213.90" y="20.80" font-size="5.8" font-weight="bold" text-anchor="middle" textLength="82.2" lengthAdjust="spacingAndGlyphs">Relationship between Exosomal</text>
<text x="213.75" y="26.80" font-size="5.8" font-weight="bold" text-anchor="middle" textLength="83.9" lengthAdjust="spacingAndGlyphs">miR-451a and uninfected RBC of</text>
<text x="213.60" y="32.60" font-size="5.8" font-weight="bold" text-anchor="middle" textLength="60.6" lengthAdjust="spacingAndGlyphs">different Hb  Genotypes</text>
<line x1="171.90" y1="41.40" x2="171.90" y2="97.40" stroke="#3a3a3a" stroke-width="0.8"/>
<line x1="169.90" y1="97.40" x2="171.90" y2="97.40" stroke="#3a3a3a" stroke-width="0.7"/>
<text x="169.30" y="98.95" font-size="4.3" font-weight="700" class="t" text-anchor="end">0</text>
<line x1="169.90" y1="83.40" x2="171.90" y2="83.40" stroke="#3a3a3a" stroke-width="0.7"/>
<text x="169.30" y="84.95" font-size="4.3" font-weight="700" class="t" text-anchor="end">10</text>
<line x1="169.90" y1="69.40" x2="171.90" y2="69.40" stroke="#3a3a3a" stroke-width="0.7"/>
<text x="169.30" y="70.95" font-size="4.3" font-weight="700" class="t" text-anchor="end">20</text>
<line x1="169.90" y1="55.40" x2="171.90" y2="55.40" stroke="#3a3a3a" stroke-width="0.7"/>
<text x="169.30" y="56.95" font-size="4.3" font-weight="700" class="t" text-anchor="end">30</text>
<line x1="169.90" y1="41.40" x2="171.90" y2="41.40" stroke="#3a3a3a" stroke-width="0.7"/>
<text x="169.30" y="42.95" font-size="4.3" font-weight="700" class="t" text-anchor="end">40</text>
<line x1="180.70" y1="65.48" x2="180.70" y2="47.14" stroke="#FF9C9C" stroke-width="0.7"/>
<line x1="178.40" y1="47.14" x2="183.00" y2="47.14" stroke="#FF9C9C" stroke-width="0.7"/>
<rect x="176.20" y="65.48" width="9.00" height="31.92" fill="#FF9C9C"/>
<line x1="180.70" y1="97.40" x2="180.70" y2="99.70" stroke="#3a3a3a" stroke-width="0.7"/>
<text x="183.30" y="102.80" font-size="4.6" font-weight="bold" text-anchor="end" transform="rotate(-45 183.30 102.80)" textLength="14.5" lengthAdjust="spacingAndGlyphs">HbAA-</text>
<line x1="193.92" y1="64.50" x2="193.92" y2="48.40" stroke="#FFB878" stroke-width="0.7"/>
<line x1="191.62" y1="48.40" x2="196.22" y2="48.40" stroke="#FFB878" stroke-width="0.7"/>
<rect x="189.42" y="64.50" width="9.00" height="32.90" fill="#FFB878"/>
<line x1="193.92" y1="97.40" x2="193.92" y2="99.70" stroke="#3a3a3a" stroke-width="0.7"/>
<text x="196.52" y="102.80" font-size="4.6" font-weight="bold" text-anchor="end" transform="rotate(-45 196.52 102.80)" textLength="14.5" lengthAdjust="spacingAndGlyphs">HbAS-</text>
<line x1="207.14" y1="69.96" x2="207.14" y2="61.14" stroke="#50EE8C" stroke-width="0.7"/>
<line x1="204.84" y1="61.14" x2="209.44" y2="61.14" stroke="#50EE8C" stroke-width="0.7"/>
<rect x="202.64" y="69.96" width="9.00" height="27.44" fill="#50EE8C"/>
<line x1="207.14" y1="97.40" x2="207.14" y2="99.70" stroke="#3a3a3a" stroke-width="0.7"/>
<text x="209.74" y="102.80" font-size="4.6" font-weight="bold" text-anchor="end" transform="rotate(-45 209.74 102.80)" textLength="14.5" lengthAdjust="spacingAndGlyphs">HbAC-</text>
<line x1="220.36" y1="57.22" x2="220.36" y2="45.60" stroke="#6DB7F7" stroke-width="0.7"/>
<line x1="218.06" y1="45.60" x2="222.66" y2="45.60" stroke="#6DB7F7" stroke-width="0.7"/>
<rect x="215.86" y="57.22" width="9.00" height="40.18" fill="#6DB7F7"/>
<line x1="220.36" y1="97.40" x2="220.36" y2="99.70" stroke="#3a3a3a" stroke-width="0.7"/>
<text x="222.96" y="102.80" font-size="4.6" font-weight="bold" text-anchor="end" transform="rotate(-45 222.96 102.80)" textLength="14.5" lengthAdjust="spacingAndGlyphs">HbSS-</text>
<line x1="233.58" y1="68.00" x2="233.58" y2="50.50" stroke="#F282F6" stroke-width="0.7"/>
<line x1="231.28" y1="50.50" x2="235.88" y2="50.50" stroke="#F282F6" stroke-width="0.7"/>
<rect x="229.08" y="68.00" width="9.00" height="29.40" fill="#F282F6"/>
<line x1="233.58" y1="97.40" x2="233.58" y2="99.70" stroke="#3a3a3a" stroke-width="0.7"/>
<text x="236.18" y="102.80" font-size="4.6" font-weight="bold" text-anchor="end" transform="rotate(-45 236.18 102.80)" textLength="14.5" lengthAdjust="spacingAndGlyphs">HbSC-</text>
<line x1="246.80" y1="71.36" x2="246.80" y2="53.86" stroke="#FF8EC2" stroke-width="0.7"/>
<line x1="244.50" y1="53.86" x2="249.10" y2="53.86" stroke="#FF8EC2" stroke-width="0.7"/>
<rect x="242.30" y="71.36" width="9.00" height="26.04" fill="#FF8EC2"/>
<line x1="246.80" y1="97.40" x2="246.80" y2="99.70" stroke="#3a3a3a" stroke-width="0.7"/>
<text x="249.40" y="102.80" font-size="4.6" font-weight="bold" text-anchor="end" transform="rotate(-45 249.40 102.80)" textLength="14.5" lengthAdjust="spacingAndGlyphs">HbCC-</text>
<line x1="171.90" y1="97.40" x2="256.00" y2="97.40" stroke="#3a3a3a" stroke-width="0.85"/>
<text x="153.57" y="68.60" font-size="4.65" font-weight="bold" text-anchor="middle" transform="rotate(-90 153.57 68.60)" textLength="62.3" lengthAdjust="spacingAndGlyphs">AUC for Exosomal miR-451a</text>
<text x="159.67" y="68.20" font-size="4.65" font-weight="bold" text-anchor="middle" transform="rotate(-90 159.67 68.20)" textLength="38.5" lengthAdjust="spacingAndGlyphs">for Days 3, 8, 9,16</text>
<text x="142.50" y="120.60" font-size="10.8" font-weight="bold">D.</text>
<text x="217.00" y="122.50" font-size="5.8" font-weight="bold" text-anchor="middle" textLength="81.9" lengthAdjust="spacingAndGlyphs">Relationship between Exosomal</text>
<text x="216.60" y="128.80" font-size="5.8" font-weight="bold" text-anchor="middle" textLength="76.8" lengthAdjust="spacingAndGlyphs">miR-451a and infected RBC of</text>
<text x="216.60" y="134.60" font-size="5.8" font-weight="bold" text-anchor="middle" textLength="60.3" lengthAdjust="spacingAndGlyphs">different Hb  Genotypes</text>
<line x1="174.90" y1="141.45" x2="174.90" y2="197.20" stroke="#3a3a3a" stroke-width="0.8"/>
<line x1="172.90" y1="197.20" x2="174.90" y2="197.20" stroke="#3a3a3a" stroke-width="0.7"/>
<text x="172.30" y="198.75" font-size="4.3" font-weight="700" class="t" text-anchor="end">0</text>
<line x1="172.90" y1="186.05" x2="174.90" y2="186.05" stroke="#3a3a3a" stroke-width="0.7"/>
<text x="172.30" y="187.60" font-size="4.3" font-weight="700" class="t" text-anchor="end">10</text>
<line x1="172.90" y1="174.90" x2="174.90" y2="174.90" stroke="#3a3a3a" stroke-width="0.7"/>
<text x="172.30" y="176.45" font-size="4.3" font-weight="700" class="t" text-anchor="end">20</text>
<line x1="172.90" y1="163.75" x2="174.90" y2="163.75" stroke="#3a3a3a" stroke-width="0.7"/>
<text x="172.30" y="165.30" font-size="4.3" font-weight="700" class="t" text-anchor="end">30</text>
<line x1="172.90" y1="152.60" x2="174.90" y2="152.60" stroke="#3a3a3a" stroke-width="0.7"/>
<text x="172.30" y="154.15" font-size="4.3" font-weight="700" class="t" text-anchor="end">40</text>
<line x1="172.90" y1="141.45" x2="174.90" y2="141.45" stroke="#3a3a3a" stroke-width="0.7"/>
<text x="172.30" y="143.00" font-size="4.3" font-weight="700" class="t" text-anchor="end">50</text>
<line x1="183.65" y1="168.77" x2="183.65" y2="151.37" stroke="#FF0000" stroke-width="0.7"/>
<line x1="181.35" y1="151.37" x2="185.95" y2="151.37" stroke="#FF0000" stroke-width="0.7"/>
<rect x="179.15" y="168.77" width="9.00" height="28.43" fill="#FF0000"/>
<line x1="183.65" y1="197.20" x2="183.65" y2="199.50" stroke="#3a3a3a" stroke-width="0.7"/>
<text x="186.25" y="202.60" font-size="4.6" font-weight="bold" text-anchor="end" transform="rotate(-45 186.25 202.60)" textLength="14.5" lengthAdjust="spacingAndGlyphs">HbAA+</text>
<line x1="196.85" y1="167.43" x2="196.85" y2="145.91" stroke="#FF8000" stroke-width="0.7"/>
<line x1="194.55" y1="145.91" x2="199.15" y2="145.91" stroke="#FF8000" stroke-width="0.7"/>
<rect x="192.35" y="167.43" width="9.00" height="29.77" fill="#FF8000"/>
<line x1="196.85" y1="197.20" x2="196.85" y2="199.50" stroke="#3a3a3a" stroke-width="0.7"/>
<text x="199.45" y="202.60" font-size="4.6" font-weight="bold" text-anchor="end" transform="rotate(-45 199.45 202.60)" textLength="14.5" lengthAdjust="spacingAndGlyphs">HbAS+</text>
<line x1="210.05" y1="173.45" x2="210.05" y2="155.16" stroke="#00C000" stroke-width="0.7"/>
<line x1="207.75" y1="155.16" x2="212.35" y2="155.16" stroke="#00C000" stroke-width="0.7"/>
<rect x="205.55" y="173.45" width="9.00" height="23.75" fill="#00C000"/>
<line x1="210.05" y1="197.20" x2="210.05" y2="199.50" stroke="#3a3a3a" stroke-width="0.7"/>
<text x="212.65" y="202.60" font-size="4.6" font-weight="bold" text-anchor="end" transform="rotate(-45 212.65 202.60)" textLength="14.5" lengthAdjust="spacingAndGlyphs">HbAC+</text>
<line x1="223.25" y1="168.99" x2="223.25" y2="160.40" stroke="#0000FF" stroke-width="0.7"/>
<line x1="220.95" y1="160.40" x2="225.55" y2="160.40" stroke="#0000FF" stroke-width="0.7"/>
<rect x="218.75" y="168.99" width="9.00" height="28.21" fill="#0000FF"/>
<line x1="223.25" y1="197.20" x2="223.25" y2="199.50" stroke="#3a3a3a" stroke-width="0.7"/>
<text x="225.85" y="202.60" font-size="4.6" font-weight="bold" text-anchor="end" transform="rotate(-45 225.85 202.60)" textLength="14.5" lengthAdjust="spacingAndGlyphs">HbSS+</text>
<line x1="236.45" y1="171.22" x2="236.45" y2="155.83" stroke="#CC00F0" stroke-width="0.7"/>
<line x1="234.15" y1="155.83" x2="238.75" y2="155.83" stroke="#CC00F0" stroke-width="0.7"/>
<rect x="231.95" y="171.22" width="9.00" height="25.98" fill="#CC00F0"/>
<line x1="236.45" y1="197.20" x2="236.45" y2="199.50" stroke="#3a3a3a" stroke-width="0.7"/>
<text x="239.05" y="202.60" font-size="4.6" font-weight="bold" text-anchor="end" transform="rotate(-45 239.05 202.60)" textLength="14.5" lengthAdjust="spacingAndGlyphs">HbSC+</text>
<line x1="249.65" y1="175.35" x2="249.65" y2="166.87" stroke="#FF0080" stroke-width="0.7"/>
<line x1="247.35" y1="166.87" x2="251.95" y2="166.87" stroke="#FF0080" stroke-width="0.7"/>
<rect x="245.15" y="175.35" width="9.00" height="21.85" fill="#FF0080"/>
<line x1="249.65" y1="197.20" x2="249.65" y2="199.50" stroke="#3a3a3a" stroke-width="0.7"/>
<text x="252.25" y="202.60" font-size="4.6" font-weight="bold" text-anchor="end" transform="rotate(-45 252.25 202.60)" textLength="14.5" lengthAdjust="spacingAndGlyphs">HbCC+</text>
<line x1="174.90" y1="197.20" x2="258.80" y2="197.20" stroke="#3a3a3a" stroke-width="0.85"/>
<text x="154.31" y="169.20" font-size="4.75" font-weight="bold" text-anchor="middle" transform="rotate(-90 154.31 169.20)" textLength="40.5" lengthAdjust="spacingAndGlyphs">AUC for Exosomal</text>
<text x="159.71" y="169.20" font-size="4.75" font-weight="bold" text-anchor="middle" transform="rotate(-90 159.71 169.20)" textLength="61.3" lengthAdjust="spacingAndGlyphs">miR-451a for Days 3, 8, 9,16</text>
<text x="420.00" y="17.50" font-size="10.8" font-weight="bold">J.</text>
<text x="496.30" y="21.20" font-size="6.1" font-weight="bold" text-anchor="middle" textLength="86.6" lengthAdjust="spacingAndGlyphs">Relationship between Exosomal</text>
<text x="496.20" y="27.50" font-size="6.1" font-weight="bold" text-anchor="middle" textLength="86.4" lengthAdjust="spacingAndGlyphs">let-7i-5p and uninfected RBC of</text>
<text x="496.50" y="33.80" font-size="6.1" font-weight="bold" text-anchor="middle" textLength="63" lengthAdjust="spacingAndGlyphs">different Hb  Genotypes</text>
<line x1="452.10" y1="42.30" x2="452.10" y2="101.40" stroke="#3a3a3a" stroke-width="0.8"/>
<line x1="450.10" y1="101.40" x2="452.10" y2="101.40" stroke="#3a3a3a" stroke-width="0.7"/>
<text x="449.50" y="103.02" font-size="4.5" font-weight="700" class="t" text-anchor="end">0</text>
<line x1="450.10" y1="81.70" x2="452.10" y2="81.70" stroke="#3a3a3a" stroke-width="0.7"/>
<text x="449.50" y="83.32" font-size="4.5" font-weight="700" class="t" text-anchor="end">5</text>
<line x1="450.10" y1="62.00" x2="452.10" y2="62.00" stroke="#3a3a3a" stroke-width="0.7"/>
<text x="449.50" y="63.62" font-size="4.5" font-weight="700" class="t" text-anchor="end">10</text>
<line x1="450.10" y1="42.30" x2="452.10" y2="42.30" stroke="#3a3a3a" stroke-width="0.7"/>
<text x="449.50" y="43.92" font-size="4.5" font-weight="700" class="t" text-anchor="end">15</text>
<line x1="461.90" y1="79.93" x2="461.90" y2="61.02" stroke="#FF9C9C" stroke-width="0.7"/>
<line x1="459.60" y1="61.02" x2="464.20" y2="61.02" stroke="#FF9C9C" stroke-width="0.7"/>
<rect x="457.30" y="79.93" width="9.20" height="21.47" fill="#FF9C9C"/>
<line x1="461.90" y1="101.40" x2="461.90" y2="103.70" stroke="#3a3a3a" stroke-width="0.7"/>
<text x="464.20" y="107.40" font-size="4.8" font-weight="bold" text-anchor="end" transform="rotate(-45 464.20 107.40)" textLength="14.6" lengthAdjust="spacingAndGlyphs">HbAA-</text>
<line x1="475.80" y1="84.06" x2="475.80" y2="73.43" stroke="#FFB878" stroke-width="0.7"/>
<line x1="473.50" y1="73.43" x2="478.10" y2="73.43" stroke="#FFB878" stroke-width="0.7"/>
<rect x="471.20" y="84.06" width="9.20" height="17.34" fill="#FFB878"/>
<line x1="475.80" y1="101.40" x2="475.80" y2="103.70" stroke="#3a3a3a" stroke-width="0.7"/>
<text x="478.10" y="107.40" font-size="4.8" font-weight="bold" text-anchor="end" transform="rotate(-45 478.10 107.40)" textLength="14.6" lengthAdjust="spacingAndGlyphs">HbAS-</text>
<line x1="489.70" y1="89.78" x2="489.70" y2="81.31" stroke="#50EE8C" stroke-width="0.7"/>
<line x1="487.40" y1="81.31" x2="492.00" y2="81.31" stroke="#50EE8C" stroke-width="0.7"/>
<rect x="485.10" y="89.78" width="9.20" height="11.62" fill="#50EE8C"/>
<line x1="489.70" y1="101.40" x2="489.70" y2="103.70" stroke="#3a3a3a" stroke-width="0.7"/>
<text x="492.00" y="107.40" font-size="4.8" font-weight="bold" text-anchor="end" transform="rotate(-45 492.00 107.40)" textLength="14.6" lengthAdjust="spacingAndGlyphs">HbAC-</text>
<line x1="503.60" y1="65.94" x2="503.60" y2="51.76" stroke="#6DB7F7" stroke-width="0.7"/>
<line x1="501.30" y1="51.76" x2="505.90" y2="51.76" stroke="#6DB7F7" stroke-width="0.7"/>
<rect x="499.00" y="65.94" width="9.20" height="35.46" fill="#6DB7F7"/>
<line x1="503.60" y1="101.40" x2="503.60" y2="103.70" stroke="#3a3a3a" stroke-width="0.7"/>
<text x="505.90" y="107.40" font-size="4.8" font-weight="bold" text-anchor="end" transform="rotate(-45 505.90 107.40)" textLength="14.6" lengthAdjust="spacingAndGlyphs">HbSS-</text>
<line x1="517.50" y1="77.37" x2="517.50" y2="68.30" stroke="#F282F6" stroke-width="0.7"/>
<line x1="515.20" y1="68.30" x2="519.80" y2="68.30" stroke="#F282F6" stroke-width="0.7"/>
<rect x="512.90" y="77.37" width="9.20" height="24.03" fill="#F282F6"/>
<line x1="517.50" y1="101.40" x2="517.50" y2="103.70" stroke="#3a3a3a" stroke-width="0.7"/>
<text x="519.80" y="107.40" font-size="4.8" font-weight="bold" text-anchor="end" transform="rotate(-45 519.80 107.40)" textLength="14.6" lengthAdjust="spacingAndGlyphs">HbSC-</text>
<line x1="531.40" y1="84.06" x2="531.40" y2="73.43" stroke="#FF8EC2" stroke-width="0.7"/>
<line x1="529.10" y1="73.43" x2="533.70" y2="73.43" stroke="#FF8EC2" stroke-width="0.7"/>
<rect x="526.80" y="84.06" width="9.20" height="17.34" fill="#FF8EC2"/>
<line x1="531.40" y1="101.40" x2="531.40" y2="103.70" stroke="#3a3a3a" stroke-width="0.7"/>
<text x="533.70" y="107.40" font-size="4.8" font-weight="bold" text-anchor="end" transform="rotate(-45 533.70 107.40)" textLength="14.6" lengthAdjust="spacingAndGlyphs">HbCC-</text>
<line x1="452.10" y1="101.40" x2="541.10" y2="101.40" stroke="#3a3a3a" stroke-width="0.85"/>
<text x="435.56" y="71.40" font-size="4.9" font-weight="bold" text-anchor="middle" transform="rotate(-90 435.56 71.40)" textLength="62.8" lengthAdjust="spacingAndGlyphs">AUC for Exosomal let-7i-5p</text>
<text x="441.96" y="71.40" font-size="4.9" font-weight="bold" text-anchor="middle" transform="rotate(-90 441.96 71.40)" textLength="43" lengthAdjust="spacingAndGlyphs">for Days 3, 8, 9, 16</text>
<text x="423.80" y="121.00" font-size="10.8" font-weight="bold">L.</text>
<text x="496.40" y="129.00" font-size="6.1" font-weight="bold" text-anchor="middle" textLength="86.8" lengthAdjust="spacingAndGlyphs">Relationship between Exosomal</text>
<text x="496.30" y="135.30" font-size="6.1" font-weight="bold" text-anchor="middle" textLength="77.9" lengthAdjust="spacingAndGlyphs">let-7i-5p and infected RBC of</text>
<text x="497.00" y="141.40" font-size="6.1" font-weight="bold" text-anchor="middle" textLength="64" lengthAdjust="spacingAndGlyphs">different Hb  Genotypes</text>
<line x1="453.10" y1="143.60" x2="453.10" y2="202.70" stroke="#3a3a3a" stroke-width="0.8"/>
<line x1="451.10" y1="202.70" x2="453.10" y2="202.70" stroke="#3a3a3a" stroke-width="0.7"/>
<text x="450.50" y="204.32" font-size="4.5" font-weight="700" class="t" text-anchor="end">0</text>
<line x1="451.10" y1="183.00" x2="453.10" y2="183.00" stroke="#3a3a3a" stroke-width="0.7"/>
<text x="450.50" y="184.62" font-size="4.5" font-weight="700" class="t" text-anchor="end">5</text>
<line x1="451.10" y1="163.30" x2="453.10" y2="163.30" stroke="#3a3a3a" stroke-width="0.7"/>
<text x="450.50" y="164.92" font-size="4.5" font-weight="700" class="t" text-anchor="end">10</text>
<line x1="451.10" y1="143.60" x2="453.10" y2="143.60" stroke="#3a3a3a" stroke-width="0.7"/>
<text x="450.50" y="145.22" font-size="4.5" font-weight="700" class="t" text-anchor="end">15</text>
<line x1="461.50" y1="196.40" x2="461.50" y2="190.88" stroke="#FF0000" stroke-width="0.7"/>
<line x1="459.20" y1="190.88" x2="463.80" y2="190.88" stroke="#FF0000" stroke-width="0.7"/>
<rect x="456.80" y="196.40" width="9.40" height="6.30" fill="#FF0000"/>
<line x1="461.50" y1="202.70" x2="461.50" y2="205.00" stroke="#3a3a3a" stroke-width="0.7"/>
<text x="463.80" y="208.70" font-size="4.8" font-weight="bold" text-anchor="end" transform="rotate(-45 463.80 208.70)" textLength="14.6" lengthAdjust="spacingAndGlyphs">HbAA+</text>
<line x1="475.40" y1="179.65" x2="475.40" y2="153.06" stroke="#FF8000" stroke-width="0.7"/>
<line x1="473.10" y1="153.06" x2="477.70" y2="153.06" stroke="#FF8000" stroke-width="0.7"/>
<rect x="470.70" y="179.65" width="9.40" height="23.05" fill="#FF8000"/>
<line x1="475.40" y1="202.70" x2="475.40" y2="205.00" stroke="#3a3a3a" stroke-width="0.7"/>
<text x="477.70" y="208.70" font-size="4.8" font-weight="bold" text-anchor="end" transform="rotate(-45 477.70 208.70)" textLength="14.6" lengthAdjust="spacingAndGlyphs">HbAS+</text>
<line x1="489.30" y1="178.47" x2="489.30" y2="157.78" stroke="#00C000" stroke-width="0.7"/>
<line x1="487.00" y1="157.78" x2="491.60" y2="157.78" stroke="#00C000" stroke-width="0.7"/>
<rect x="484.60" y="178.47" width="9.40" height="24.23" fill="#00C000"/>
<line x1="489.30" y1="202.70" x2="489.30" y2="205.00" stroke="#3a3a3a" stroke-width="0.7"/>
<text x="491.60" y="208.70" font-size="4.8" font-weight="bold" text-anchor="end" transform="rotate(-45 491.60 208.70)" textLength="14.6" lengthAdjust="spacingAndGlyphs">HbAC+</text>
<line x1="503.20" y1="179.06" x2="503.20" y2="168.82" stroke="#0000FF" stroke-width="0.7"/>
<line x1="500.90" y1="168.82" x2="505.50" y2="168.82" stroke="#0000FF" stroke-width="0.7"/>
<rect x="498.50" y="179.06" width="9.40" height="23.64" fill="#0000FF"/>
<line x1="503.20" y1="202.70" x2="503.20" y2="205.00" stroke="#3a3a3a" stroke-width="0.7"/>
<text x="505.50" y="208.70" font-size="4.8" font-weight="bold" text-anchor="end" transform="rotate(-45 505.50 208.70)" textLength="14.6" lengthAdjust="spacingAndGlyphs">HbSS+</text>
<line x1="517.10" y1="175.51" x2="517.10" y2="147.54" stroke="#CC00F0" stroke-width="0.7"/>
<line x1="514.80" y1="147.54" x2="519.40" y2="147.54" stroke="#CC00F0" stroke-width="0.7"/>
<rect x="512.40" y="175.51" width="9.40" height="27.19" fill="#CC00F0"/>
<line x1="517.10" y1="202.70" x2="517.10" y2="205.00" stroke="#3a3a3a" stroke-width="0.7"/>
<text x="519.40" y="208.70" font-size="4.8" font-weight="bold" text-anchor="end" transform="rotate(-45 519.40 208.70)" textLength="14.6" lengthAdjust="spacingAndGlyphs">HbSC+</text>
<line x1="531.00" y1="186.94" x2="531.00" y2="168.03" stroke="#FF0080" stroke-width="0.7"/>
<line x1="528.70" y1="168.03" x2="533.30" y2="168.03" stroke="#FF0080" stroke-width="0.7"/>
<rect x="526.30" y="186.94" width="9.40" height="15.76" fill="#FF0080"/>
<line x1="531.00" y1="202.70" x2="531.00" y2="205.00" stroke="#3a3a3a" stroke-width="0.7"/>
<text x="533.30" y="208.70" font-size="4.8" font-weight="bold" text-anchor="end" transform="rotate(-45 533.30 208.70)" textLength="14.6" lengthAdjust="spacingAndGlyphs">HbCC+</text>
<line x1="453.10" y1="202.70" x2="541.00" y2="202.70" stroke="#3a3a3a" stroke-width="0.85"/>
<text x="435.56" y="172.90" font-size="4.9" font-weight="bold" text-anchor="middle" transform="rotate(-90 435.56 172.90)" textLength="62.8" lengthAdjust="spacingAndGlyphs">AUC for Exosomal let-7i-5p</text>
<text x="441.76" y="173.20" font-size="4.9" font-weight="bold" text-anchor="middle" transform="rotate(-90 441.76 173.20)" textLength="41.5" lengthAdjust="spacingAndGlyphs">for Days 3, 8, 9,16</text>
<text x="6.50" y="222.80" font-size="10.8" font-weight="bold">E.</text>
<text x="71.25" y="223.90" font-size="5.8" font-weight="bold" text-anchor="middle" textLength="92.9" lengthAdjust="spacingAndGlyphs">Exosomal miR-451a Levels for Day 3</text>
<line x1="29.50" y1="231.10" x2="29.50" y2="286.85" stroke="#3a3a3a" stroke-width="0.8"/>
<line x1="27.50" y1="286.85" x2="29.50" y2="286.85" stroke="#3a3a3a" stroke-width="0.7"/>
<text x="26.90" y="288.40" font-size="4.3" font-weight="700" class="t" text-anchor="end">-5</text>
<line x1="27.50" y1="275.70" x2="29.50" y2="275.70" stroke="#3a3a3a" stroke-width="0.7"/>
<text x="26.90" y="277.25" font-size="4.3" font-weight="700" class="t" text-anchor="end">-4</text>
<line x1="27.50" y1="264.55" x2="29.50" y2="264.55" stroke="#3a3a3a" stroke-width="0.7"/>
<text x="26.90" y="266.10" font-size="4.3" font-weight="700" class="t" text-anchor="end">-3</text>
<line x1="27.50" y1="253.40" x2="29.50" y2="253.40" stroke="#3a3a3a" stroke-width="0.7"/>
<text x="26.90" y="254.95" font-size="4.3" font-weight="700" class="t" text-anchor="end">-2</text>
<line x1="27.50" y1="242.25" x2="29.50" y2="242.25" stroke="#3a3a3a" stroke-width="0.7"/>
<text x="26.90" y="243.80" font-size="4.3" font-weight="700" class="t" text-anchor="end">-1</text>
<line x1="27.50" y1="231.10" x2="29.50" y2="231.10" stroke="#3a3a3a" stroke-width="0.7"/>
<text x="26.90" y="232.65" font-size="4.3" font-weight="700" class="t" text-anchor="end">0</text>
<line x1="29.50" y1="231.10" x2="112.60" y2="231.10" stroke="#9a9a9a" stroke-width="0.5" stroke-dasharray="0.9,0.9"/>
<line x1="29.50" y1="286.90" x2="112.60" y2="286.90" stroke="#3a3a3a" stroke-width="0.85"/>
<line x1="29.50" y1="286.90" x2="29.50" y2="288.80" stroke="#3a3a3a" stroke-width="0.6"/>
<text x="29.50" y="293.90" font-size="4.3" font-weight="700" class="t" text-anchor="middle">0</text>
<line x1="57.20" y1="286.90" x2="57.20" y2="288.80" stroke="#3a3a3a" stroke-width="0.6"/>
<text x="57.20" y="293.90" font-size="4.3" font-weight="700" class="t" text-anchor="middle">2</text>
<line x1="84.90" y1="286.90" x2="84.90" y2="288.80" stroke="#3a3a3a" stroke-width="0.6"/>
<text x="84.90" y="293.90" font-size="4.3" font-weight="700" class="t" text-anchor="middle">4</text>
<line x1="112.60" y1="286.90" x2="112.60" y2="288.80" stroke="#3a3a3a" stroke-width="0.6"/>
<text x="112.60" y="293.90" font-size="4.3" font-weight="700" class="t" text-anchor="middle">6</text>
<text x="71.25" y="300.80" font-size="4.66" font-weight="bold" text-anchor="middle" textLength="40.9" lengthAdjust="spacingAndGlyphs">Parasite Count (%)</text>
<text x="20.23" y="259.10" font-size="6.2" font-weight="bold" text-anchor="middle" transform="rotate(-90 20.23 259.10)" textLength="65.3" lengthAdjust="spacingAndGlyphs">Log of Fold Change  (ΔCt)</text>
<polyline points="34.80,237.75 37.50,239.04 40.19,240.30 42.89,241.54 45.58,242.76 48.28,243.94 50.97,245.08 53.67,246.17 56.37,247.20 59.06,248.15 61.76,249.01 64.45,249.77 67.15,250.40 69.85,250.91 72.54,251.29 75.24,251.54 77.93,251.68 80.63,251.72 83.33,251.67 86.02,251.55 88.72,251.37 91.41,251.14 94.11,250.87 96.80,250.58 99.50,250.25" fill="none" stroke="#8c8c8c" stroke-width="0.55" stroke-dasharray="0.9,0.9"/>
<polyline points="34.80,266.05 37.50,265.69 40.19,265.35 42.89,265.03 45.58,264.74 48.28,264.48 50.97,264.27 53.67,264.10 56.37,264.00 59.06,263.98 61.76,264.04 64.45,264.21 67.15,264.50 69.85,264.91 72.54,265.46 75.24,266.13 77.93,266.92 80.63,267.81 83.33,268.78 86.02,269.83 88.72,270.93 91.41,272.08 94.11,273.28 96.80,274.50 99.50,275.75" fill="none" stroke="#8c8c8c" stroke-width="0.55" stroke-dasharray="0.9,0.9"/>
<line x1="34.80" y1="251.90" x2="99.50" y2="263.00" stroke="#1a1a1a" stroke-width="0.85"/>
<circle cx="34.90" cy="245.00" r="1.2" fill="#0000FF"/>
<circle cx="43.30" cy="248.90" r="1.2" fill="#FF0000"/>
<circle cx="43.30" cy="264.40" r="1.2" fill="#FF0000"/>
<circle cx="51.70" cy="272.00" r="1.2" fill="#FF0080"/>
<circle cx="61.00" cy="245.80" r="1.2" fill="#0000FF"/>
<circle cx="62.80" cy="246.30" r="1.2" fill="#0000FF"/>
<circle cx="64.40" cy="247.00" r="1.2" fill="#FF0080"/>
<circle cx="65.60" cy="254.20" r="1.2" fill="#CC00F0"/>
<circle cx="65.60" cy="264.90" r="1.2" fill="#FF8000"/>
<circle cx="75.00" cy="252.90" r="1.2" fill="#FF8000"/>
<circle cx="79.40" cy="266.20" r="1.2" fill="#FF0000"/>
<circle cx="80.90" cy="268.70" r="1.2" fill="#FF0000"/>
<circle cx="81.90" cy="240.00" r="1.2" fill="#00C000"/>
<circle cx="82.20" cy="282.00" r="1.2" fill="#FF8000"/>
<circle cx="92.10" cy="252.70" r="1.2" fill="#CC00F0"/>
<circle cx="99.20" cy="267.40" r="1.2" fill="#00C000"/>
<text x="142.20" y="222.60" font-size="10.8" font-weight="bold">F.</text>
<text x="206.90" y="223.90" font-size="5.8" font-weight="bold" text-anchor="middle" textLength="93.2" lengthAdjust="spacingAndGlyphs">Exosomal miR-451a Levels for Day 8</text>
<line x1="165.00" y1="231.30" x2="165.00" y2="287.20" stroke="#3a3a3a" stroke-width="0.8"/>
<line x1="163.00" y1="287.20" x2="165.00" y2="287.20" stroke="#3a3a3a" stroke-width="0.7"/>
<text x="162.40" y="288.75" font-size="4.3" font-weight="700" class="t" text-anchor="end">-5</text>
<line x1="163.00" y1="276.02" x2="165.00" y2="276.02" stroke="#3a3a3a" stroke-width="0.7"/>
<text x="162.40" y="277.57" font-size="4.3" font-weight="700" class="t" text-anchor="end">-4</text>
<line x1="163.00" y1="264.84" x2="165.00" y2="264.84" stroke="#3a3a3a" stroke-width="0.7"/>
<text x="162.40" y="266.39" font-size="4.3" font-weight="700" class="t" text-anchor="end">-3</text>
<line x1="163.00" y1="253.66" x2="165.00" y2="253.66" stroke="#3a3a3a" stroke-width="0.7"/>
<text x="162.40" y="255.21" font-size="4.3" font-weight="700" class="t" text-anchor="end">-2</text>
<line x1="163.00" y1="242.48" x2="165.00" y2="242.48" stroke="#3a3a3a" stroke-width="0.7"/>
<text x="162.40" y="244.03" font-size="4.3" font-weight="700" class="t" text-anchor="end">-1</text>
<line x1="163.00" y1="231.30" x2="165.00" y2="231.30" stroke="#3a3a3a" stroke-width="0.7"/>
<text x="162.40" y="232.85" font-size="4.3" font-weight="700" class="t" text-anchor="end">0</text>
<line x1="165.00" y1="231.30" x2="247.95" y2="231.30" stroke="#9a9a9a" stroke-width="0.5" stroke-dasharray="0.9,0.9"/>
<line x1="165.00" y1="287.20" x2="247.95" y2="287.20" stroke="#3a3a3a" stroke-width="0.85"/>
<line x1="170.53" y1="287.20" x2="170.53" y2="288.30" stroke="#3a3a3a" stroke-width="0.5"/>
<line x1="176.06" y1="287.20" x2="176.06" y2="288.30" stroke="#3a3a3a" stroke-width="0.5"/>
<line x1="181.59" y1="287.20" x2="181.59" y2="288.30" stroke="#3a3a3a" stroke-width="0.5"/>
<line x1="187.12" y1="287.20" x2="187.12" y2="288.30" stroke="#3a3a3a" stroke-width="0.5"/>
<line x1="198.18" y1="287.20" x2="198.18" y2="288.30" stroke="#3a3a3a" stroke-width="0.5"/>
<line x1="203.71" y1="287.20" x2="203.71" y2="288.30" stroke="#3a3a3a" stroke-width="0.5"/>
<line x1="209.24" y1="287.20" x2="209.24" y2="288.30" stroke="#3a3a3a" stroke-width="0.5"/>
<line x1="214.77" y1="287.20" x2="214.77" y2="288.30" stroke="#3a3a3a" stroke-width="0.5"/>
<line x1="225.83" y1="287.20" x2="225.83" y2="288.30" stroke="#3a3a3a" stroke-width="0.5"/>
<line x1="231.36" y1="287.20" x2="231.36" y2="288.30" stroke="#3a3a3a" stroke-width="0.5"/>
<line x1="236.89" y1="287.20" x2="236.89" y2="288.30" stroke="#3a3a3a" stroke-width="0.5"/>
<line x1="242.42" y1="287.20" x2="242.42" y2="288.30" stroke="#3a3a3a" stroke-width="0.5"/>
<line x1="165.00" y1="287.20" x2="165.00" y2="289.10" stroke="#3a3a3a" stroke-width="0.6"/>
<text x="165.00" y="294.20" font-size="4.3" font-weight="700" class="t" text-anchor="middle">0</text>
<line x1="192.65" y1="287.20" x2="192.65" y2="289.10" stroke="#3a3a3a" stroke-width="0.6"/>
<text x="192.65" y="294.20" font-size="4.3" font-weight="700" class="t" text-anchor="middle">5</text>
<line x1="220.30" y1="287.20" x2="220.30" y2="289.10" stroke="#3a3a3a" stroke-width="0.6"/>
<text x="220.30" y="294.20" font-size="4.3" font-weight="700" class="t" text-anchor="middle">10</text>
<line x1="247.95" y1="287.20" x2="247.95" y2="289.10" stroke="#3a3a3a" stroke-width="0.6"/>
<text x="247.95" y="294.20" font-size="4.3" font-weight="700" class="t" text-anchor="middle">15</text>
<text x="206.50" y="301.00" font-size="4.66" font-weight="bold" text-anchor="middle" textLength="41.4" lengthAdjust="spacingAndGlyphs">Parasite Count (%)</text>
<text x="155.33" y="258.90" font-size="6.2" font-weight="bold" text-anchor="middle" transform="rotate(-90 155.33 258.90)" textLength="65.8" lengthAdjust="spacingAndGlyphs">Log of Fold Change  (ΔCt)</text>
<polyline points="179.30,251.25 180.93,251.73 182.57,252.19 184.20,252.63 185.83,253.02 187.47,253.38 189.10,253.67 190.73,253.90 192.37,254.05 194.00,254.11 195.63,254.06 197.27,253.90 198.90,253.64 200.53,253.27 202.17,252.82 203.80,252.29 205.43,251.70 207.07,251.06 208.70,250.38 210.33,249.66 211.97,248.93 213.60,248.17 215.23,247.39 216.87,246.60 218.50,245.80" fill="none" stroke="#8c8c8c" stroke-width="0.55" stroke-dasharray="0.9,0.9"/>
<polyline points="179.30,269.75 180.93,269.00 182.57,268.27 184.20,267.57 185.83,266.91 187.47,266.29 189.10,265.73 190.73,265.23 192.37,264.81 194.00,264.49 195.63,264.27 197.27,264.16 198.90,264.16 200.53,264.26 202.17,264.45 203.80,264.71 205.43,265.04 207.07,265.41 208.70,265.82 210.33,266.27 211.97,266.74 213.60,267.23 215.23,267.74 216.87,268.27 218.50,268.80" fill="none" stroke="#8c8c8c" stroke-width="0.55" stroke-dasharray="0.9,0.9"/>
<line x1="179.30" y1="260.50" x2="218.50" y2="257.30" stroke="#1a1a1a" stroke-width="0.85"/>
<circle cx="179.10" cy="257.30" r="1.2" fill="#0000FF"/>
<circle cx="182.20" cy="266.90" r="1.2" fill="#0000FF"/>
<circle cx="190.30" cy="247.10" r="1.2" fill="#0000FF"/>
<circle cx="191.60" cy="243.80" r="1.2" fill="#FF0000"/>
<circle cx="185.20" cy="273.80" r="1.2" fill="#FF0080"/>
<circle cx="184.70" cy="280.20" r="1.2" fill="#FF8000"/>
<circle cx="188.00" cy="259.80" r="1.2" fill="#CC00F0"/>
<circle cx="189.30" cy="258.00" r="1.2" fill="#FF0080"/>
<circle cx="192.80" cy="255.50" r="1.2" fill="#FF8000"/>
<circle cx="194.90" cy="252.90" r="1.2" fill="#FF8000"/>
<circle cx="199.50" cy="253.40" r="1.2" fill="#0000FF"/>
<circle cx="199.50" cy="246.30" r="1.2" fill="#00C000"/>
<circle cx="195.60" cy="266.20" r="1.2" fill="#CC00F0"/>
<circle cx="203.80" cy="266.20" r="1.2" fill="#00C000"/>
<circle cx="208.40" cy="245.30" r="1.2" fill="#CC00F0"/>
<circle cx="212.70" cy="273.00" r="1.2" fill="#FF0000"/>
<circle cx="216.00" cy="262.80" r="1.2" fill="#FF0000"/>
<circle cx="218.30" cy="259.30" r="1.2" fill="#FF0080"/>
<text x="6.50" y="313.10" font-size="10.8" font-weight="bold">G.</text>
<text x="71.30" y="314.60" font-size="5.8" font-weight="bold" text-anchor="middle" textLength="93.2" lengthAdjust="spacingAndGlyphs">Exosomal miR-451a Levels for Day 9</text>
<line x1="29.30" y1="321.02" x2="29.30" y2="377.22" stroke="#3a3a3a" stroke-width="0.8"/>
<line x1="27.30" y1="377.22" x2="29.30" y2="377.22" stroke="#3a3a3a" stroke-width="0.7"/>
<text x="26.70" y="378.77" font-size="4.3" font-weight="700" class="t" text-anchor="end">-6</text>
<line x1="27.30" y1="365.98" x2="29.30" y2="365.98" stroke="#3a3a3a" stroke-width="0.7"/>
<text x="26.70" y="367.53" font-size="4.3" font-weight="700" class="t" text-anchor="end">-4</text>
<line x1="27.30" y1="354.74" x2="29.30" y2="354.74" stroke="#3a3a3a" stroke-width="0.7"/>
<text x="26.70" y="356.29" font-size="4.3" font-weight="700" class="t" text-anchor="end">-2</text>
<line x1="27.30" y1="343.50" x2="29.30" y2="343.50" stroke="#3a3a3a" stroke-width="0.7"/>
<text x="26.70" y="345.05" font-size="4.3" font-weight="700" class="t" text-anchor="end">0</text>
<line x1="27.30" y1="332.26" x2="29.30" y2="332.26" stroke="#3a3a3a" stroke-width="0.7"/>
<text x="26.70" y="333.81" font-size="4.3" font-weight="700" class="t" text-anchor="end">2</text>
<line x1="27.30" y1="321.02" x2="29.30" y2="321.02" stroke="#3a3a3a" stroke-width="0.7"/>
<text x="26.70" y="322.57" font-size="4.3" font-weight="700" class="t" text-anchor="end">4</text>
<line x1="29.30" y1="343.50" x2="111.80" y2="343.50" stroke="#3a3a3a" stroke-width="0.85"/>
<line x1="45.80" y1="343.50" x2="45.80" y2="345.40" stroke="#3a3a3a" stroke-width="0.6"/>
<text x="45.80" y="350.50" font-size="4.3" font-weight="700" class="t" text-anchor="middle">2</text>
<line x1="62.30" y1="343.50" x2="62.30" y2="345.40" stroke="#3a3a3a" stroke-width="0.6"/>
<text x="62.30" y="350.50" font-size="4.3" font-weight="700" class="t" text-anchor="middle">4</text>
<line x1="78.80" y1="343.50" x2="78.80" y2="345.40" stroke="#3a3a3a" stroke-width="0.6"/>
<text x="78.80" y="350.50" font-size="4.3" font-weight="700" class="t" text-anchor="middle">6</text>
<line x1="95.30" y1="343.50" x2="95.30" y2="345.40" stroke="#3a3a3a" stroke-width="0.6"/>
<text x="95.30" y="350.50" font-size="4.3" font-weight="700" class="t" text-anchor="middle">8</text>
<line x1="111.80" y1="343.50" x2="111.80" y2="345.40" stroke="#3a3a3a" stroke-width="0.6"/>
<text x="111.80" y="350.50" font-size="4.3" font-weight="700" class="t" text-anchor="middle">10</text>
<text x="75.00" y="383.00" font-size="4.66" font-weight="bold" text-anchor="middle" textLength="40.9" lengthAdjust="spacingAndGlyphs">Parasite Count (%)</text>
<text x="20.33" y="348.90" font-size="6.2" font-weight="bold" text-anchor="middle" transform="rotate(-90 20.33 348.90)" textLength="65.8" lengthAdjust="spacingAndGlyphs">Log of Fold Change  (ΔCt)</text>
<line x1="41.20" y1="345.80" x2="100.50" y2="353.90" stroke="#1a1a1a" stroke-width="0.85"/>
<circle cx="40.70" cy="349.60" r="1.2" fill="#0000FF"/>
<circle cx="45.80" cy="352.20" r="1.2" fill="#FF0000"/>
<circle cx="50.90" cy="338.20" r="1.2" fill="#FF0000"/>
<circle cx="52.90" cy="359.80" r="1.2" fill="#0000FF"/>
<circle cx="58.00" cy="350.90" r="1.2" fill="#FF0000"/>
<circle cx="58.50" cy="352.90" r="1.2" fill="#0000FF"/>
<circle cx="61.10" cy="354.20" r="1.2" fill="#FF8000"/>
<circle cx="63.10" cy="333.80" r="1.2" fill="#CC00F0"/>
<circle cx="64.40" cy="345.30" r="1.2" fill="#CC00F0"/>
<circle cx="73.00" cy="325.40" r="1.2" fill="#0000FF"/>
<circle cx="73.30" cy="350.10" r="1.2" fill="#00C000"/>
<circle cx="74.60" cy="352.20" r="1.2" fill="#FF0080"/>
<circle cx="77.60" cy="339.40" r="1.2" fill="#FF8000"/>
<circle cx="77.60" cy="362.80" r="1.2" fill="#FF0000"/>
<circle cx="86.50" cy="342.70" r="1.2" fill="#00C000"/>
<circle cx="92.90" cy="364.90" r="1.2" fill="#FF8000"/>
<circle cx="100.00" cy="352.90" r="1.2" fill="#FF0000"/>
<circle cx="101.30" cy="367.40" r="1.2" fill="#CC00F0"/>
<text x="144.30" y="312.40" font-size="10.8" font-weight="bold">H.</text>
<text x="207.10" y="313.80" font-size="5.8" font-weight="bold" text-anchor="middle" textLength="97" lengthAdjust="spacingAndGlyphs">Exosomal miR-451a Levels for Day 16</text>
<line x1="165.00" y1="321.30" x2="165.00" y2="377.20" stroke="#3a3a3a" stroke-width="0.8"/>
<line x1="163.00" y1="377.20" x2="165.00" y2="377.20" stroke="#3a3a3a" stroke-width="0.7"/>
<text x="162.40" y="378.75" font-size="4.3" font-weight="700" class="t" text-anchor="end">-5</text>
<line x1="163.00" y1="366.02" x2="165.00" y2="366.02" stroke="#3a3a3a" stroke-width="0.7"/>
<text x="162.40" y="367.57" font-size="4.3" font-weight="700" class="t" text-anchor="end">-4</text>
<line x1="163.00" y1="354.84" x2="165.00" y2="354.84" stroke="#3a3a3a" stroke-width="0.7"/>
<text x="162.40" y="356.39" font-size="4.3" font-weight="700" class="t" text-anchor="end">-3</text>
<line x1="163.00" y1="343.66" x2="165.00" y2="343.66" stroke="#3a3a3a" stroke-width="0.7"/>
<text x="162.40" y="345.21" font-size="4.3" font-weight="700" class="t" text-anchor="end">-2</text>
<line x1="163.00" y1="332.48" x2="165.00" y2="332.48" stroke="#3a3a3a" stroke-width="0.7"/>
<text x="162.40" y="334.03" font-size="4.3" font-weight="700" class="t" text-anchor="end">-1</text>
<line x1="163.00" y1="321.30" x2="165.00" y2="321.30" stroke="#3a3a3a" stroke-width="0.7"/>
<text x="162.40" y="322.85" font-size="4.3" font-weight="700" class="t" text-anchor="end">0</text>
<line x1="165.00" y1="321.30" x2="248.58" y2="321.30" stroke="#9a9a9a" stroke-width="0.5" stroke-dasharray="0.9,0.9"/>
<line x1="165.00" y1="377.20" x2="248.58" y2="377.20" stroke="#3a3a3a" stroke-width="0.85"/>
<line x1="165.00" y1="377.20" x2="165.00" y2="379.10" stroke="#3a3a3a" stroke-width="0.6"/>
<text x="165.00" y="384.20" font-size="4.3" font-weight="700" class="t" text-anchor="middle">0</text>
<line x1="192.86" y1="377.20" x2="192.86" y2="379.10" stroke="#3a3a3a" stroke-width="0.6"/>
<text x="192.86" y="384.20" font-size="4.3" font-weight="700" class="t" text-anchor="middle">2</text>
<line x1="220.72" y1="377.20" x2="220.72" y2="379.10" stroke="#3a3a3a" stroke-width="0.6"/>
<text x="220.72" y="384.20" font-size="4.3" font-weight="700" class="t" text-anchor="middle">4</text>
<line x1="248.58" y1="377.20" x2="248.58" y2="379.10" stroke="#3a3a3a" stroke-width="0.6"/>
<text x="248.58" y="384.20" font-size="4.3" font-weight="700" class="t" text-anchor="middle">6</text>
<text x="206.50" y="391.30" font-size="4.66" font-weight="bold" text-anchor="middle" textLength="41.5" lengthAdjust="spacingAndGlyphs">Parasite Count (%)</text>
<text x="155.83" y="349.10" font-size="6.2" font-weight="bold" text-anchor="middle" transform="rotate(-90 155.83 349.10)" textLength="65.3" lengthAdjust="spacingAndGlyphs">Log of Fold Change  (ΔCt)</text>
<polyline points="181.90,331.30 184.27,332.51 186.63,333.68 189.00,334.82 191.37,335.91 193.73,336.95 196.10,337.91 198.47,338.80 200.83,339.58 203.20,340.25 205.57,340.79 207.93,341.20 210.30,341.47 212.67,341.60 215.03,341.63 217.40,341.54 219.77,341.38 222.13,341.14 224.50,340.84 226.87,340.49 229.23,340.11 231.60,339.69 233.97,339.25 236.33,338.78 238.70,338.30" fill="none" stroke="#8c8c8c" stroke-width="0.55" stroke-dasharray="0.9,0.9"/>
<polyline points="181.90,357.10 184.27,356.68 186.63,356.29 189.00,355.93 191.37,355.62 193.73,355.37 196.10,355.19 198.47,355.09 200.83,355.09 203.20,355.20 205.57,355.44 207.93,355.82 210.30,356.33 212.67,356.98 215.03,357.74 217.40,358.61 219.77,359.56 222.13,360.58 224.50,361.66 226.87,362.79 229.23,363.96 231.60,365.16 233.97,366.39 236.33,367.63 238.70,368.90" fill="none" stroke="#8c8c8c" stroke-width="0.55" stroke-dasharray="0.9,0.9"/>
<line x1="181.90" y1="344.20" x2="238.70" y2="353.60" stroke="#1a1a1a" stroke-width="0.85"/>
<circle cx="181.00" cy="359.70" r="1.2" fill="#FF0080"/>
<circle cx="188.00" cy="350.00" r="1.2" fill="#FF8000"/>
<circle cx="191.30" cy="335.20" r="1.2" fill="#00C000"/>
<circle cx="193.60" cy="324.90" r="1.2" fill="#00C000"/>
<circle cx="194.10" cy="338.80" r="1.2" fill="#0000FF"/>
<circle cx="199.70" cy="353.30" r="1.2" fill="#00C000"/>
<circle cx="201.10" cy="357.50" r="1.2" fill="#0000FF"/>
<circle cx="208.10" cy="359.20" r="1.2" fill="#FF8000"/>
<circle cx="212.30" cy="333.80" r="1.2" fill="#FF0080"/>
<circle cx="219.80" cy="359.70" r="1.2" fill="#FF0000"/>
<circle cx="227.60" cy="354.10" r="1.2" fill="#CC00F0"/>
<circle cx="230.40" cy="360.60" r="1.2" fill="#FF0000"/>
<circle cx="238.80" cy="344.40" r="1.2" fill="#0000FF"/>
<text x="268.50" y="223.10" font-size="10.8" font-weight="bold">M.</text>
<text x="340.00" y="231.00" font-size="6.1" font-weight="bold" text-anchor="middle" textLength="96.7" lengthAdjust="spacingAndGlyphs">Exosomal let-7i-5p Levels for Day 3</text>
<line x1="295.50" y1="238.89" x2="295.50" y2="297.21" stroke="#3a3a3a" stroke-width="0.8"/>
<line x1="293.50" y1="297.21" x2="295.50" y2="297.21" stroke="#3a3a3a" stroke-width="0.7"/>
<text x="292.90" y="298.83" font-size="4.5" font-weight="700" class="t" text-anchor="end">-3</text>
<line x1="293.50" y1="287.49" x2="295.50" y2="287.49" stroke="#3a3a3a" stroke-width="0.7"/>
<text x="292.90" y="289.11" font-size="4.5" font-weight="700" class="t" text-anchor="end">-2</text>
<line x1="293.50" y1="277.77" x2="295.50" y2="277.77" stroke="#3a3a3a" stroke-width="0.7"/>
<text x="292.90" y="279.39" font-size="4.5" font-weight="700" class="t" text-anchor="end">-1</text>
<line x1="293.50" y1="268.05" x2="295.50" y2="268.05" stroke="#3a3a3a" stroke-width="0.7"/>
<text x="292.90" y="269.67" font-size="4.5" font-weight="700" class="t" text-anchor="end">0</text>
<line x1="293.50" y1="258.33" x2="295.50" y2="258.33" stroke="#3a3a3a" stroke-width="0.7"/>
<text x="292.90" y="259.95" font-size="4.5" font-weight="700" class="t" text-anchor="end">1</text>
<line x1="293.50" y1="248.61" x2="295.50" y2="248.61" stroke="#3a3a3a" stroke-width="0.7"/>
<text x="292.90" y="250.23" font-size="4.5" font-weight="700" class="t" text-anchor="end">2</text>
<line x1="293.50" y1="238.89" x2="295.50" y2="238.89" stroke="#3a3a3a" stroke-width="0.7"/>
<text x="292.90" y="240.51" font-size="4.5" font-weight="700" class="t" text-anchor="end">3</text>
<line x1="295.50" y1="268.05" x2="384.00" y2="268.05" stroke="#3a3a3a" stroke-width="0.85"/>
<line x1="325.00" y1="268.05" x2="325.00" y2="269.95" stroke="#3a3a3a" stroke-width="0.6"/>
<text x="325.00" y="275.45" font-size="4.5" font-weight="700" class="t" text-anchor="middle">2</text>
<line x1="354.50" y1="268.05" x2="354.50" y2="269.95" stroke="#3a3a3a" stroke-width="0.6"/>
<text x="354.50" y="275.45" font-size="4.5" font-weight="700" class="t" text-anchor="middle">4</text>
<line x1="384.00" y1="268.05" x2="384.00" y2="269.95" stroke="#3a3a3a" stroke-width="0.6"/>
<text x="384.00" y="275.45" font-size="4.5" font-weight="700" class="t" text-anchor="middle">6</text>
<text x="333.50" y="302.00" font-size="4.9" font-weight="bold" text-anchor="middle" textLength="43.5" lengthAdjust="spacingAndGlyphs">Parasite Count (%)</text>
<text x="285.03" y="268.20" font-size="6.2" font-weight="bold" text-anchor="middle" transform="rotate(-90 285.03 268.20)" textLength="69.3" lengthAdjust="spacingAndGlyphs">Log of Fold Change  (ΔCt)</text>
<polyline points="301.10,248.20 303.94,249.59 306.78,250.96 309.61,252.32 312.45,253.64 315.29,254.94 318.12,256.19 320.96,257.40 323.80,258.56 326.64,259.65 329.48,260.67 332.31,261.60 335.15,262.43 337.99,263.17 340.82,263.81 343.66,264.35 346.50,264.80 349.34,265.18 352.18,265.49 355.01,265.74 357.85,265.95 360.69,266.12 363.52,266.25 366.36,266.36 369.20,266.45" fill="none" stroke="#8c8c8c" stroke-width="0.55" stroke-dasharray="0.9,0.9"/>
<polyline points="301.10,271.60 303.94,271.67 306.78,271.75 309.61,271.86 312.45,271.99 315.29,272.16 318.12,272.36 320.96,272.60 323.80,272.91 326.64,273.27 329.48,273.71 332.31,274.24 335.15,274.87 337.99,275.59 340.82,276.41 343.66,277.33 346.50,278.33 349.34,279.42 352.18,280.56 355.01,281.77 357.85,283.02 360.69,284.31 363.52,285.63 366.36,286.98 369.20,288.35" fill="none" stroke="#8c8c8c" stroke-width="0.55" stroke-dasharray="0.9,0.9"/>
<line x1="301.10" y1="259.90" x2="369.20" y2="277.40" stroke="#1a1a1a" stroke-width="0.85"/>
<circle cx="301.00" cy="256.00" r="1.2" fill="#0000FF"/>
<circle cx="310.00" cy="268.70" r="1.2" fill="#FF0000"/>
<circle cx="310.00" cy="270.00" r="1.2" fill="#FF0000"/>
<circle cx="318.90" cy="264.10" r="1.2" fill="#FF0080"/>
<circle cx="329.30" cy="276.80" r="1.2" fill="#0000FF"/>
<circle cx="330.60" cy="256.00" r="1.2" fill="#0000FF"/>
<circle cx="333.60" cy="256.50" r="1.2" fill="#FF8000"/>
<circle cx="333.60" cy="262.30" r="1.2" fill="#CC00F0"/>
<circle cx="332.30" cy="272.50" r="1.2" fill="#FF0080"/>
<circle cx="348.40" cy="265.60" r="1.2" fill="#FF0080"/>
<circle cx="349.60" cy="258.00" r="1.2" fill="#FF0000"/>
<circle cx="351.40" cy="259.00" r="1.2" fill="#00C000"/>
<circle cx="351.40" cy="276.30" r="1.2" fill="#FF8000"/>
<circle cx="343.80" cy="287.80" r="1.2" fill="#FF8000"/>
<circle cx="361.60" cy="288.30" r="1.2" fill="#CC00F0"/>
<circle cx="369.20" cy="282.70" r="1.2" fill="#00C000"/>
<text x="423.30" y="223.10" font-size="10.8" font-weight="bold">N.</text>
<text x="491.80" y="231.00" font-size="6.1" font-weight="bold" text-anchor="middle" textLength="96" lengthAdjust="spacingAndGlyphs">Exosomal let-7i-5p Levels for Day 8</text>
<line x1="447.20" y1="238.92" x2="447.20" y2="297.62" stroke="#3a3a3a" stroke-width="0.8"/>
<line x1="445.20" y1="297.62" x2="447.20" y2="297.62" stroke="#3a3a3a" stroke-width="0.7"/>
<text x="444.60" y="299.24" font-size="4.5" font-weight="700" class="t" text-anchor="end">-3</text>
<line x1="445.20" y1="285.88" x2="447.20" y2="285.88" stroke="#3a3a3a" stroke-width="0.7"/>
<text x="444.60" y="287.50" font-size="4.5" font-weight="700" class="t" text-anchor="end">-2</text>
<line x1="445.20" y1="274.14" x2="447.20" y2="274.14" stroke="#3a3a3a" stroke-width="0.7"/>
<text x="444.60" y="275.76" font-size="4.5" font-weight="700" class="t" text-anchor="end">-1</text>
<line x1="445.20" y1="262.40" x2="447.20" y2="262.40" stroke="#3a3a3a" stroke-width="0.7"/>
<text x="444.60" y="264.02" font-size="4.5" font-weight="700" class="t" text-anchor="end">0</text>
<line x1="445.20" y1="250.66" x2="447.20" y2="250.66" stroke="#3a3a3a" stroke-width="0.7"/>
<text x="444.60" y="252.28" font-size="4.5" font-weight="700" class="t" text-anchor="end">1</text>
<line x1="445.20" y1="238.92" x2="447.20" y2="238.92" stroke="#3a3a3a" stroke-width="0.7"/>
<text x="444.60" y="240.54" font-size="4.5" font-weight="700" class="t" text-anchor="end">2</text>
<line x1="447.20" y1="262.40" x2="536.15" y2="262.40" stroke="#3a3a3a" stroke-width="0.85"/>
<line x1="453.13" y1="262.40" x2="453.13" y2="263.50" stroke="#3a3a3a" stroke-width="0.5"/>
<line x1="459.06" y1="262.40" x2="459.06" y2="263.50" stroke="#3a3a3a" stroke-width="0.5"/>
<line x1="464.99" y1="262.40" x2="464.99" y2="263.50" stroke="#3a3a3a" stroke-width="0.5"/>
<line x1="470.92" y1="262.40" x2="470.92" y2="263.50" stroke="#3a3a3a" stroke-width="0.5"/>
<line x1="482.78" y1="262.40" x2="482.78" y2="263.50" stroke="#3a3a3a" stroke-width="0.5"/>
<line x1="488.71" y1="262.40" x2="488.71" y2="263.50" stroke="#3a3a3a" stroke-width="0.5"/>
<line x1="494.64" y1="262.40" x2="494.64" y2="263.50" stroke="#3a3a3a" stroke-width="0.5"/>
<line x1="500.57" y1="262.40" x2="500.57" y2="263.50" stroke="#3a3a3a" stroke-width="0.5"/>
<line x1="512.43" y1="262.40" x2="512.43" y2="263.50" stroke="#3a3a3a" stroke-width="0.5"/>
<line x1="518.36" y1="262.40" x2="518.36" y2="263.50" stroke="#3a3a3a" stroke-width="0.5"/>
<line x1="524.29" y1="262.40" x2="524.29" y2="263.50" stroke="#3a3a3a" stroke-width="0.5"/>
<line x1="530.22" y1="262.40" x2="530.22" y2="263.50" stroke="#3a3a3a" stroke-width="0.5"/>
<line x1="476.85" y1="262.40" x2="476.85" y2="264.30" stroke="#3a3a3a" stroke-width="0.6"/>
<text x="476.85" y="269.80" font-size="4.5" font-weight="700" class="t" text-anchor="middle">5</text>
<line x1="506.50" y1="262.40" x2="506.50" y2="264.30" stroke="#3a3a3a" stroke-width="0.6"/>
<text x="506.50" y="269.80" font-size="4.5" font-weight="700" class="t" text-anchor="middle">10</text>
<line x1="536.15" y1="262.40" x2="536.15" y2="264.30" stroke="#3a3a3a" stroke-width="0.6"/>
<text x="536.15" y="269.80" font-size="4.5" font-weight="700" class="t" text-anchor="middle">15</text>
<text x="491.50" y="302.00" font-size="4.9" font-weight="bold" text-anchor="middle" textLength="43.3" lengthAdjust="spacingAndGlyphs">Parasite Count (%)</text>
<text x="437.33" y="267.60" font-size="6.2" font-weight="bold" text-anchor="middle" transform="rotate(-90 437.33 267.60)" textLength="70.3" lengthAdjust="spacingAndGlyphs">Log of Fold Change  (ΔCt)</text>
<polyline points="463.40,241.70 465.40,243.28 467.41,244.85 469.41,246.38 471.42,247.89 473.42,249.37 475.42,250.80 477.43,252.18 479.43,253.50 481.44,254.74 483.44,255.90 485.45,256.97 487.45,257.95 489.45,258.82 491.46,259.60 493.46,260.29 495.47,260.90 497.47,261.44 499.48,261.93 501.48,262.37 503.48,262.77 505.49,263.14 507.49,263.48 509.50,263.80 511.50,264.10" fill="none" stroke="#8c8c8c" stroke-width="0.55" stroke-dasharray="0.9,0.9"/>
<polyline points="463.40,263.50 465.40,263.81 467.41,264.14 469.41,264.49 471.42,264.87 473.42,265.29 475.42,265.75 477.43,266.26 479.43,266.84 481.44,267.48 483.44,268.21 485.45,269.03 487.45,269.95 489.45,270.97 491.46,272.08 493.46,273.29 495.47,274.57 497.47,275.92 499.48,277.32 501.48,278.77 503.48,280.26 505.49,281.79 507.49,283.34 509.50,284.91 511.50,286.50" fill="none" stroke="#8c8c8c" stroke-width="0.55" stroke-dasharray="0.9,0.9"/>
<line x1="463.40" y1="252.60" x2="511.50" y2="275.30" stroke="#1a1a1a" stroke-width="0.85"/>
<circle cx="462.70" cy="240.90" r="1.2" fill="#0000FF"/>
<circle cx="464.90" cy="250.70" r="1.2" fill="#0000FF"/>
<circle cx="471.70" cy="250.50" r="1.2" fill="#FF0000"/>
<circle cx="474.40" cy="250.70" r="1.2" fill="#0000FF"/>
<circle cx="475.80" cy="255.90" r="1.2" fill="#FF0000"/>
<circle cx="479.90" cy="245.50" r="1.2" fill="#CC00F0"/>
<circle cx="472.30" cy="263.30" r="1.2" fill="#FF8000"/>
<circle cx="468.70" cy="266.00" r="1.2" fill="#CC00F0"/>
<circle cx="472.30" cy="268.20" r="1.2" fill="#CC00F0"/>
<circle cx="473.10" cy="273.60" r="1.2" fill="#FF0080"/>
<circle cx="484.00" cy="272.30" r="1.2" fill="#0000FF"/>
<circle cx="493.50" cy="260.50" r="1.2" fill="#CC00F0"/>
<circle cx="494.60" cy="254.00" r="1.2" fill="#FF8000"/>
<circle cx="497.40" cy="255.10" r="1.2" fill="#FF0000"/>
<circle cx="504.40" cy="263.50" r="1.2" fill="#00C000"/>
<circle cx="504.20" cy="268.20" r="1.2" fill="#CC00F0"/>
<circle cx="501.50" cy="277.20" r="1.2" fill="#FF0000"/>
<circle cx="494.10" cy="286.70" r="1.2" fill="#00C000"/>
<circle cx="511.80" cy="286.70" r="1.2" fill="#FF8000"/>
<text x="271.60" y="313.10" font-size="10.8" font-weight="bold">O.</text>
<text x="340.00" y="320.00" font-size="6.1" font-weight="bold" text-anchor="middle" textLength="96.7" lengthAdjust="spacingAndGlyphs">Exosomal let-7i-5p Levels for Day 9</text>
<line x1="294.90" y1="327.32" x2="294.90" y2="386.02" stroke="#3a3a3a" stroke-width="0.8"/>
<line x1="292.90" y1="386.02" x2="294.90" y2="386.02" stroke="#3a3a3a" stroke-width="0.7"/>
<text x="292.30" y="387.64" font-size="4.5" font-weight="700" class="t" text-anchor="end">-3</text>
<line x1="292.90" y1="374.28" x2="294.90" y2="374.28" stroke="#3a3a3a" stroke-width="0.7"/>
<text x="292.30" y="375.90" font-size="4.5" font-weight="700" class="t" text-anchor="end">-2</text>
<line x1="292.90" y1="362.54" x2="294.90" y2="362.54" stroke="#3a3a3a" stroke-width="0.7"/>
<text x="292.30" y="364.16" font-size="4.5" font-weight="700" class="t" text-anchor="end">-1</text>
<line x1="292.90" y1="350.80" x2="294.90" y2="350.80" stroke="#3a3a3a" stroke-width="0.7"/>
<text x="292.30" y="352.42" font-size="4.5" font-weight="700" class="t" text-anchor="end">0</text>
<line x1="292.90" y1="339.06" x2="294.90" y2="339.06" stroke="#3a3a3a" stroke-width="0.7"/>
<text x="292.30" y="340.68" font-size="4.5" font-weight="700" class="t" text-anchor="end">1</text>
<line x1="292.90" y1="327.32" x2="294.90" y2="327.32" stroke="#3a3a3a" stroke-width="0.7"/>
<text x="292.30" y="328.94" font-size="4.5" font-weight="700" class="t" text-anchor="end">2</text>
<line x1="294.90" y1="350.80" x2="383.90" y2="350.80" stroke="#3a3a3a" stroke-width="0.85"/>
<line x1="312.70" y1="350.80" x2="312.70" y2="352.70" stroke="#3a3a3a" stroke-width="0.6"/>
<text x="312.70" y="358.20" font-size="4.5" font-weight="700" class="t" text-anchor="middle">2</text>
<line x1="330.50" y1="350.80" x2="330.50" y2="352.70" stroke="#3a3a3a" stroke-width="0.6"/>
<text x="330.50" y="358.20" font-size="4.5" font-weight="700" class="t" text-anchor="middle">4</text>
<line x1="348.30" y1="350.80" x2="348.30" y2="352.70" stroke="#3a3a3a" stroke-width="0.6"/>
<text x="348.30" y="358.20" font-size="4.5" font-weight="700" class="t" text-anchor="middle">6</text>
<line x1="366.10" y1="350.80" x2="366.10" y2="352.70" stroke="#3a3a3a" stroke-width="0.6"/>
<text x="366.10" y="358.20" font-size="4.5" font-weight="700" class="t" text-anchor="middle">8</text>
<line x1="383.90" y1="350.80" x2="383.90" y2="352.70" stroke="#3a3a3a" stroke-width="0.6"/>
<text x="383.90" y="358.20" font-size="4.5" font-weight="700" class="t" text-anchor="middle">10</text>
<text x="343.20" y="391.00" font-size="4.9" font-weight="bold" text-anchor="middle" textLength="43.3" lengthAdjust="spacingAndGlyphs">Parasite Count (%)</text>
<text x="285.03" y="356.40" font-size="6.2" font-weight="bold" text-anchor="middle" transform="rotate(-90 285.03 356.40)" textLength="69.8" lengthAdjust="spacingAndGlyphs">Log of Fold Change  (ΔCt)</text>
<polyline points="313.10,339.80 315.53,340.53 317.95,341.23 320.38,341.90 322.80,342.52 325.23,343.08 327.65,343.58 330.08,343.99 332.50,344.30 334.93,344.49 337.35,344.54 339.78,344.44 342.20,344.19 344.62,343.79 347.05,343.24 349.48,342.57 351.90,341.80 354.33,340.93 356.75,339.99 359.18,339.00 361.60,337.95 364.03,336.87 366.45,335.75 368.88,334.61 371.30,333.45" fill="none" stroke="#8c8c8c" stroke-width="0.55" stroke-dasharray="0.9,0.9"/>
<polyline points="313.10,369.40 315.53,368.28 317.95,367.18 320.38,366.13 322.80,365.12 325.23,364.16 327.65,363.27 330.08,362.47 332.50,361.77 334.93,361.19 337.35,360.74 339.78,360.45 342.20,360.31 344.62,360.32 347.05,360.47 349.48,360.75 351.90,361.14 354.33,361.61 356.75,362.16 359.18,362.76 361.60,363.41 364.03,364.11 366.45,364.83 368.88,365.58 371.30,366.35" fill="none" stroke="#8c8c8c" stroke-width="0.55" stroke-dasharray="0.9,0.9"/>
<line x1="313.10" y1="354.60" x2="371.30" y2="349.90" stroke="#1a1a1a" stroke-width="0.85"/>
<circle cx="313.20" cy="370.90" r="1.2" fill="#FF0000"/>
<circle cx="318.80" cy="348.00" r="1.2" fill="#FF0000"/>
<circle cx="320.80" cy="329.60" r="1.2" fill="#0000FF"/>
<circle cx="327.20" cy="331.30" r="1.2" fill="#CC00F0"/>
<circle cx="325.80" cy="356.40" r="1.2" fill="#0000FF"/>
<circle cx="326.60" cy="365.80" r="1.2" fill="#FF0080"/>
<circle cx="329.10" cy="343.80" r="1.2" fill="#FF8000"/>
<circle cx="331.30" cy="377.00" r="1.2" fill="#CC00F0"/>
<circle cx="341.10" cy="341.00" r="1.2" fill="#0000FF"/>
<circle cx="343.10" cy="349.40" r="1.2" fill="#FF0080"/>
<circle cx="341.10" cy="371.40" r="1.2" fill="#00C000"/>
<circle cx="346.70" cy="344.40" r="1.2" fill="#FF0000"/>
<circle cx="346.70" cy="371.40" r="1.2" fill="#FF8000"/>
<circle cx="355.90" cy="347.20" r="1.2" fill="#00C000"/>
<circle cx="362.60" cy="343.50" r="1.2" fill="#FF8000"/>
<circle cx="370.40" cy="361.10" r="1.2" fill="#FF0000"/>
<circle cx="371.80" cy="338.80" r="1.2" fill="#CC00F0"/>
<text x="424.00" y="313.10" font-size="10.8" font-weight="bold">P.</text>
<text x="492.40" y="320.00" font-size="6.1" font-weight="bold" text-anchor="middle" textLength="99.1" lengthAdjust="spacingAndGlyphs">Exosomal let-7i-5p Levels for Day 16</text>
<line x1="448.00" y1="327.60" x2="448.00" y2="386.40" stroke="#3a3a3a" stroke-width="0.8"/>
<line x1="446.00" y1="386.40" x2="448.00" y2="386.40" stroke="#3a3a3a" stroke-width="0.7"/>
<text x="445.40" y="388.02" font-size="4.5" font-weight="700" class="t" text-anchor="end">-2</text>
<line x1="446.00" y1="371.70" x2="448.00" y2="371.70" stroke="#3a3a3a" stroke-width="0.7"/>
<text x="445.40" y="373.32" font-size="4.5" font-weight="700" class="t" text-anchor="end">-1</text>
<line x1="446.00" y1="357.00" x2="448.00" y2="357.00" stroke="#3a3a3a" stroke-width="0.7"/>
<text x="445.40" y="358.62" font-size="4.5" font-weight="700" class="t" text-anchor="end">0</text>
<line x1="446.00" y1="342.30" x2="448.00" y2="342.30" stroke="#3a3a3a" stroke-width="0.7"/>
<text x="445.40" y="343.92" font-size="4.5" font-weight="700" class="t" text-anchor="end">1</text>
<line x1="446.00" y1="327.60" x2="448.00" y2="327.60" stroke="#3a3a3a" stroke-width="0.7"/>
<text x="445.40" y="329.22" font-size="4.5" font-weight="700" class="t" text-anchor="end">2</text>
<line x1="448.00" y1="357.00" x2="535.90" y2="357.00" stroke="#3a3a3a" stroke-width="0.85"/>
<line x1="477.30" y1="357.00" x2="477.30" y2="358.90" stroke="#3a3a3a" stroke-width="0.6"/>
<text x="477.30" y="364.40" font-size="4.5" font-weight="700" class="t" text-anchor="middle">2</text>
<line x1="506.60" y1="357.00" x2="506.60" y2="358.90" stroke="#3a3a3a" stroke-width="0.6"/>
<text x="506.60" y="364.40" font-size="4.5" font-weight="700" class="t" text-anchor="middle">4</text>
<line x1="535.90" y1="357.00" x2="535.90" y2="358.90" stroke="#3a3a3a" stroke-width="0.6"/>
<text x="535.90" y="364.40" font-size="4.5" font-weight="700" class="t" text-anchor="middle">6</text>
<text x="492.00" y="391.00" font-size="4.9" font-weight="bold" text-anchor="middle" textLength="43.3" lengthAdjust="spacingAndGlyphs">Parasite Count (%)</text>
<text x="437.03" y="356.40" font-size="6.2" font-weight="bold" text-anchor="middle" transform="rotate(-90 437.03 356.40)" textLength="69.8" lengthAdjust="spacingAndGlyphs">Log of Fold Change  (ΔCt)</text>
<polyline points="462.10,354.80 464.73,355.15 467.35,355.47 469.98,355.74 472.60,355.97 475.23,356.13 477.85,356.20 480.48,356.15 483.10,355.96 485.73,355.60 488.35,355.05 490.98,354.30 493.60,353.37 496.23,352.28 498.85,351.05 501.48,349.73 504.10,348.33 506.73,346.87 509.35,345.37 511.98,343.82 514.60,342.26 517.23,340.67 519.85,339.06 522.48,337.43 525.10,335.80" fill="none" stroke="#8c8c8c" stroke-width="0.55" stroke-dasharray="0.9,0.9"/>
<polyline points="462.10,379.80 464.73,378.24 467.35,376.72 469.98,375.23 472.60,373.80 475.23,372.43 477.85,371.15 480.48,369.99 483.10,368.97 485.73,368.12 488.35,367.46 490.98,367.00 493.60,366.73 496.23,366.61 498.85,366.63 501.48,366.74 504.10,366.94 506.73,367.19 509.35,367.48 511.98,367.82 514.60,368.18 517.23,368.56 519.85,368.96 522.48,369.37 525.10,369.80" fill="none" stroke="#8c8c8c" stroke-width="0.55" stroke-dasharray="0.9,0.9"/>
<line x1="462.10" y1="367.30" x2="525.10" y2="352.80" stroke="#1a1a1a" stroke-width="0.85"/>
<circle cx="465.00" cy="357.20" r="1.2" fill="#FF0080"/>
<circle cx="461.90" cy="375.60" r="1.2" fill="#FF0080"/>
<circle cx="473.30" cy="382.00" r="1.2" fill="#CC00F0"/>
<circle cx="477.50" cy="377.80" r="1.2" fill="#00C000"/>
<circle cx="478.60" cy="348.00" r="1.2" fill="#0000FF"/>
<circle cx="480.80" cy="345.80" r="1.2" fill="#0000FF"/>
<circle cx="480.00" cy="354.70" r="1.2" fill="#FF0000"/>
<circle cx="484.20" cy="355.50" r="1.2" fill="#00C000"/>
<circle cx="485.60" cy="363.30" r="1.2" fill="#0000FF"/>
<circle cx="486.40" cy="380.60" r="1.2" fill="#FF8000"/>
<circle cx="493.40" cy="352.70" r="1.2" fill="#FF8000"/>
<circle cx="497.60" cy="363.90" r="1.2" fill="#CC00F0"/>
<circle cx="505.90" cy="353.30" r="1.2" fill="#FF0000"/>
<circle cx="509.60" cy="366.70" r="1.2" fill="#00C000"/>
<circle cx="525.50" cy="351.30" r="1.2" fill="#0000FF"/>
</g>
</svg></body></html>
